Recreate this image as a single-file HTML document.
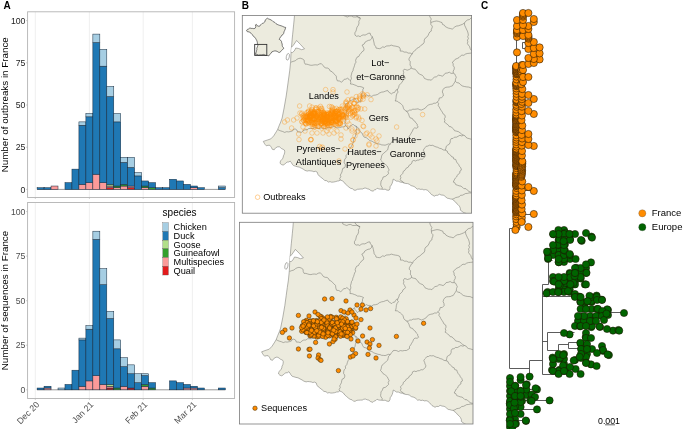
<!DOCTYPE html>
<html><head><meta charset="utf-8"><title>Figure</title>
<style>html,body{margin:0;padding:0;background:#fff}svg{display:block}</style></head>
<body>
<svg width="685" height="429" viewBox="0 0 685 429" font-family="Liberation Sans, Arial, sans-serif">
<rect width="685" height="429" fill="#fff"/>
<rect x="27.6" y="11.8" width="207.0" height="185.7" fill="#fff" stroke="none"/>
<line x1="35.3" x2="35.3" y1="11.8" y2="197.4" stroke="#e4e4e4" stroke-width="0.6"/>
<line x1="35.3" x2="35.3" y1="197.4" y2="199.0" stroke="#b3b3b3" stroke-width="0.6"/>
<line x1="89.4" x2="89.4" y1="11.8" y2="197.4" stroke="#e4e4e4" stroke-width="0.6"/>
<line x1="89.4" x2="89.4" y1="197.4" y2="199.0" stroke="#b3b3b3" stroke-width="0.6"/>
<line x1="143.2" x2="143.2" y1="11.8" y2="197.4" stroke="#e4e4e4" stroke-width="0.6"/>
<line x1="143.2" x2="143.2" y1="197.4" y2="199.0" stroke="#b3b3b3" stroke-width="0.6"/>
<line x1="192.4" x2="192.4" y1="11.8" y2="197.4" stroke="#e4e4e4" stroke-width="0.6"/>
<line x1="192.4" x2="192.4" y1="197.4" y2="199.0" stroke="#b3b3b3" stroke-width="0.6"/>
<line x1="37.1" x2="225.3" y1="189.40" y2="189.40" stroke="#333" stroke-width="0.5"/>
<rect x="37.10" y="187.71" width="6.97" height="1.69" fill="#1f78b4" stroke="#14283c" stroke-width="0.5"/>
<rect x="44.07" y="187.71" width="6.97" height="1.69" fill="#1f78b4" stroke="#14283c" stroke-width="0.5"/>
<rect x="51.04" y="186.02" width="6.97" height="3.38" fill="#fb9a99" stroke="#14283c" stroke-width="0.5"/>
<rect x="64.98" y="182.65" width="6.97" height="6.75" fill="#1f78b4" stroke="#14283c" stroke-width="0.5"/>
<rect x="71.95" y="169.14" width="6.97" height="20.26" fill="#1f78b4" stroke="#14283c" stroke-width="0.5"/>
<rect x="78.92" y="184.34" width="6.97" height="5.06" fill="#fb9a99" stroke="#14283c" stroke-width="0.5"/>
<rect x="78.92" y="125.26" width="6.97" height="59.08" fill="#1f78b4" stroke="#14283c" stroke-width="0.5"/>
<rect x="78.92" y="121.88" width="6.97" height="3.38" fill="#a6cee3" stroke="#14283c" stroke-width="0.5"/>
<rect x="85.89" y="182.65" width="6.97" height="6.75" fill="#fb9a99" stroke="#14283c" stroke-width="0.5"/>
<rect x="85.89" y="116.82" width="6.97" height="65.83" fill="#1f78b4" stroke="#14283c" stroke-width="0.5"/>
<rect x="85.89" y="113.44" width="6.97" height="3.38" fill="#a6cee3" stroke="#14283c" stroke-width="0.5"/>
<rect x="92.86" y="174.21" width="6.97" height="15.19" fill="#fb9a99" stroke="#14283c" stroke-width="0.5"/>
<rect x="92.86" y="42.54" width="6.97" height="131.66" fill="#1f78b4" stroke="#14283c" stroke-width="0.5"/>
<rect x="92.86" y="34.10" width="6.97" height="8.44" fill="#a6cee3" stroke="#14283c" stroke-width="0.5"/>
<rect x="99.83" y="182.65" width="6.97" height="6.75" fill="#fb9a99" stroke="#14283c" stroke-width="0.5"/>
<rect x="99.83" y="66.18" width="6.97" height="116.47" fill="#1f78b4" stroke="#14283c" stroke-width="0.5"/>
<rect x="99.83" y="49.30" width="6.97" height="16.88" fill="#a6cee3" stroke="#14283c" stroke-width="0.5"/>
<rect x="106.80" y="187.71" width="6.97" height="1.69" fill="#e31a1c" stroke="#14283c" stroke-width="0.5"/>
<rect x="106.80" y="186.02" width="6.97" height="1.69" fill="#fb9a99" stroke="#14283c" stroke-width="0.5"/>
<rect x="106.80" y="184.34" width="6.97" height="1.69" fill="#b2df8a" stroke="#14283c" stroke-width="0.5"/>
<rect x="106.80" y="96.56" width="6.97" height="87.78" fill="#1f78b4" stroke="#14283c" stroke-width="0.5"/>
<rect x="106.80" y="86.43" width="6.97" height="10.13" fill="#a6cee3" stroke="#14283c" stroke-width="0.5"/>
<rect x="113.77" y="187.71" width="6.97" height="1.69" fill="#fb9a99" stroke="#14283c" stroke-width="0.5"/>
<rect x="113.77" y="186.02" width="6.97" height="1.69" fill="#33a02c" stroke="#14283c" stroke-width="0.5"/>
<rect x="113.77" y="121.88" width="6.97" height="64.14" fill="#1f78b4" stroke="#14283c" stroke-width="0.5"/>
<rect x="113.77" y="113.44" width="6.97" height="8.44" fill="#a6cee3" stroke="#14283c" stroke-width="0.5"/>
<rect x="120.74" y="186.02" width="6.97" height="3.38" fill="#fb9a99" stroke="#14283c" stroke-width="0.5"/>
<rect x="120.74" y="184.34" width="6.97" height="1.69" fill="#33a02c" stroke="#14283c" stroke-width="0.5"/>
<rect x="120.74" y="162.39" width="6.97" height="21.94" fill="#1f78b4" stroke="#14283c" stroke-width="0.5"/>
<rect x="120.74" y="157.33" width="6.97" height="5.06" fill="#a6cee3" stroke="#14283c" stroke-width="0.5"/>
<rect x="127.71" y="187.71" width="6.97" height="1.69" fill="#e31a1c" stroke="#14283c" stroke-width="0.5"/>
<rect x="127.71" y="186.02" width="6.97" height="1.69" fill="#fb9a99" stroke="#14283c" stroke-width="0.5"/>
<rect x="127.71" y="167.46" width="6.97" height="18.57" fill="#1f78b4" stroke="#14283c" stroke-width="0.5"/>
<rect x="127.71" y="157.33" width="6.97" height="10.13" fill="#a6cee3" stroke="#14283c" stroke-width="0.5"/>
<rect x="134.68" y="175.90" width="6.97" height="13.50" fill="#1f78b4" stroke="#14283c" stroke-width="0.5"/>
<rect x="134.68" y="172.52" width="6.97" height="3.38" fill="#a6cee3" stroke="#14283c" stroke-width="0.5"/>
<rect x="141.65" y="187.71" width="6.97" height="1.69" fill="#fb9a99" stroke="#14283c" stroke-width="0.5"/>
<rect x="141.65" y="186.02" width="6.97" height="1.69" fill="#33a02c" stroke="#14283c" stroke-width="0.5"/>
<rect x="141.65" y="180.96" width="6.97" height="5.06" fill="#1f78b4" stroke="#14283c" stroke-width="0.5"/>
<rect x="148.62" y="187.71" width="6.97" height="1.69" fill="#33a02c" stroke="#14283c" stroke-width="0.5"/>
<rect x="148.62" y="182.65" width="6.97" height="5.06" fill="#1f78b4" stroke="#14283c" stroke-width="0.5"/>
<rect x="155.59" y="187.71" width="6.97" height="1.69" fill="#1f78b4" stroke="#14283c" stroke-width="0.5"/>
<rect x="162.56" y="187.71" width="6.97" height="1.69" fill="#1f78b4" stroke="#14283c" stroke-width="0.5"/>
<rect x="169.53" y="179.27" width="6.97" height="10.13" fill="#1f78b4" stroke="#14283c" stroke-width="0.5"/>
<rect x="176.50" y="180.96" width="6.97" height="8.44" fill="#1f78b4" stroke="#14283c" stroke-width="0.5"/>
<rect x="183.47" y="184.34" width="6.97" height="5.06" fill="#1f78b4" stroke="#14283c" stroke-width="0.5"/>
<rect x="190.44" y="187.71" width="6.97" height="1.69" fill="#fb9a99" stroke="#14283c" stroke-width="0.5"/>
<rect x="190.44" y="186.02" width="6.97" height="1.69" fill="#1f78b4" stroke="#14283c" stroke-width="0.5"/>
<rect x="197.41" y="187.71" width="6.97" height="1.69" fill="#1f78b4" stroke="#14283c" stroke-width="0.5"/>
<rect x="218.32" y="187.71" width="6.97" height="1.69" fill="#1f78b4" stroke="#14283c" stroke-width="0.5"/>
<rect x="218.32" y="186.02" width="6.97" height="1.69" fill="#a6cee3" stroke="#14283c" stroke-width="0.5"/>
<rect x="27.6" y="11.8" width="207.0" height="185.7" fill="none" stroke="#b3b3b3" stroke-width="0.9"/>
<line x1="26.0" x2="27.6" y1="189.4" y2="189.4" stroke="#b3b3b3" stroke-width="0.6"/>
<text x="25.4" y="192.5" font-size="8.7" text-anchor="end" fill="#222">0</text>
<line x1="26.0" x2="27.6" y1="147.2" y2="147.2" stroke="#b3b3b3" stroke-width="0.6"/>
<text x="25.4" y="150.3" font-size="8.7" text-anchor="end" fill="#222">25</text>
<line x1="26.0" x2="27.6" y1="105.0" y2="105.0" stroke="#b3b3b3" stroke-width="0.6"/>
<text x="25.4" y="108.1" font-size="8.7" text-anchor="end" fill="#222">50</text>
<line x1="26.0" x2="27.6" y1="62.8" y2="62.8" stroke="#b3b3b3" stroke-width="0.6"/>
<text x="25.4" y="65.9" font-size="8.7" text-anchor="end" fill="#222">75</text>
<line x1="26.0" x2="27.6" y1="20.6" y2="20.6" stroke="#b3b3b3" stroke-width="0.6"/>
<text x="25.4" y="23.7" font-size="8.7" text-anchor="end" fill="#222">100</text>
<text transform="translate(7.6 104.8) rotate(-90)" font-size="9.8" text-anchor="middle" fill="#000">Number of outbreaks in France</text>
<rect x="27.6" y="202.5" width="207.0" height="196.0" fill="#fff" stroke="none"/>
<line x1="35.3" x2="35.3" y1="202.5" y2="398.5" stroke="#e4e4e4" stroke-width="0.6"/>
<line x1="35.3" x2="35.3" y1="398.5" y2="400.1" stroke="#b3b3b3" stroke-width="0.6"/>
<line x1="89.4" x2="89.4" y1="202.5" y2="398.5" stroke="#e4e4e4" stroke-width="0.6"/>
<line x1="89.4" x2="89.4" y1="398.5" y2="400.1" stroke="#b3b3b3" stroke-width="0.6"/>
<line x1="143.2" x2="143.2" y1="202.5" y2="398.5" stroke="#e4e4e4" stroke-width="0.6"/>
<line x1="143.2" x2="143.2" y1="398.5" y2="400.1" stroke="#b3b3b3" stroke-width="0.6"/>
<line x1="192.4" x2="192.4" y1="202.5" y2="398.5" stroke="#e4e4e4" stroke-width="0.6"/>
<line x1="192.4" x2="192.4" y1="398.5" y2="400.1" stroke="#b3b3b3" stroke-width="0.6"/>
<line x1="37.1" x2="225.3" y1="389.80" y2="389.80" stroke="#333" stroke-width="0.5"/>
<rect x="37.10" y="388.02" width="6.97" height="1.78" fill="#1f78b4" stroke="#14283c" stroke-width="0.5"/>
<rect x="44.07" y="388.02" width="6.97" height="1.78" fill="#fb9a99" stroke="#14283c" stroke-width="0.5"/>
<rect x="44.07" y="386.24" width="6.97" height="1.78" fill="#1f78b4" stroke="#14283c" stroke-width="0.5"/>
<rect x="58.01" y="388.02" width="6.97" height="1.78" fill="#a6cee3" stroke="#14283c" stroke-width="0.5"/>
<rect x="64.98" y="384.45" width="6.97" height="5.35" fill="#1f78b4" stroke="#14283c" stroke-width="0.5"/>
<rect x="71.95" y="370.20" width="6.97" height="19.60" fill="#1f78b4" stroke="#14283c" stroke-width="0.5"/>
<rect x="78.92" y="386.24" width="6.97" height="3.56" fill="#fb9a99" stroke="#14283c" stroke-width="0.5"/>
<rect x="78.92" y="339.90" width="6.97" height="46.33" fill="#1f78b4" stroke="#14283c" stroke-width="0.5"/>
<rect x="78.92" y="338.12" width="6.97" height="1.78" fill="#a6cee3" stroke="#14283c" stroke-width="0.5"/>
<rect x="85.89" y="380.89" width="6.97" height="8.91" fill="#fb9a99" stroke="#14283c" stroke-width="0.5"/>
<rect x="85.89" y="329.21" width="6.97" height="51.68" fill="#1f78b4" stroke="#14283c" stroke-width="0.5"/>
<rect x="85.89" y="325.65" width="6.97" height="3.56" fill="#a6cee3" stroke="#14283c" stroke-width="0.5"/>
<rect x="92.86" y="375.54" width="6.97" height="14.26" fill="#fb9a99" stroke="#14283c" stroke-width="0.5"/>
<rect x="92.86" y="239.40" width="6.97" height="136.14" fill="#1f78b4" stroke="#14283c" stroke-width="0.5"/>
<rect x="92.86" y="231.20" width="6.97" height="8.20" fill="#a6cee3" stroke="#14283c" stroke-width="0.5"/>
<rect x="99.83" y="384.45" width="6.97" height="5.35" fill="#fb9a99" stroke="#14283c" stroke-width="0.5"/>
<rect x="99.83" y="284.66" width="6.97" height="99.79" fill="#1f78b4" stroke="#14283c" stroke-width="0.5"/>
<rect x="99.83" y="268.62" width="6.97" height="16.04" fill="#a6cee3" stroke="#14283c" stroke-width="0.5"/>
<rect x="106.80" y="388.02" width="6.97" height="1.78" fill="#e31a1c" stroke="#14283c" stroke-width="0.5"/>
<rect x="106.80" y="386.24" width="6.97" height="1.78" fill="#fb9a99" stroke="#14283c" stroke-width="0.5"/>
<rect x="106.80" y="384.45" width="6.97" height="1.78" fill="#b2df8a" stroke="#14283c" stroke-width="0.5"/>
<rect x="106.80" y="318.52" width="6.97" height="65.93" fill="#1f78b4" stroke="#14283c" stroke-width="0.5"/>
<rect x="106.80" y="311.39" width="6.97" height="7.13" fill="#a6cee3" stroke="#14283c" stroke-width="0.5"/>
<rect x="113.77" y="388.02" width="6.97" height="1.78" fill="#33a02c" stroke="#14283c" stroke-width="0.5"/>
<rect x="113.77" y="348.81" width="6.97" height="39.20" fill="#1f78b4" stroke="#14283c" stroke-width="0.5"/>
<rect x="113.77" y="339.90" width="6.97" height="8.91" fill="#a6cee3" stroke="#14283c" stroke-width="0.5"/>
<rect x="120.74" y="386.24" width="6.97" height="3.56" fill="#fb9a99" stroke="#14283c" stroke-width="0.5"/>
<rect x="120.74" y="366.63" width="6.97" height="19.60" fill="#1f78b4" stroke="#14283c" stroke-width="0.5"/>
<rect x="120.74" y="357.72" width="6.97" height="8.91" fill="#a6cee3" stroke="#14283c" stroke-width="0.5"/>
<rect x="127.71" y="388.02" width="6.97" height="1.78" fill="#e31a1c" stroke="#14283c" stroke-width="0.5"/>
<rect x="127.71" y="373.76" width="6.97" height="14.26" fill="#1f78b4" stroke="#14283c" stroke-width="0.5"/>
<rect x="127.71" y="364.85" width="6.97" height="8.91" fill="#a6cee3" stroke="#14283c" stroke-width="0.5"/>
<rect x="134.68" y="382.67" width="6.97" height="7.13" fill="#1f78b4" stroke="#14283c" stroke-width="0.5"/>
<rect x="134.68" y="373.76" width="6.97" height="8.91" fill="#a6cee3" stroke="#14283c" stroke-width="0.5"/>
<rect x="141.65" y="386.24" width="6.97" height="3.56" fill="#fb9a99" stroke="#14283c" stroke-width="0.5"/>
<rect x="141.65" y="384.45" width="6.97" height="1.78" fill="#33a02c" stroke="#14283c" stroke-width="0.5"/>
<rect x="141.65" y="375.54" width="6.97" height="8.91" fill="#1f78b4" stroke="#14283c" stroke-width="0.5"/>
<rect x="141.65" y="373.76" width="6.97" height="1.78" fill="#a6cee3" stroke="#14283c" stroke-width="0.5"/>
<rect x="148.62" y="388.02" width="6.97" height="1.78" fill="#33a02c" stroke="#14283c" stroke-width="0.5"/>
<rect x="148.62" y="382.67" width="6.97" height="5.35" fill="#1f78b4" stroke="#14283c" stroke-width="0.5"/>
<rect x="169.53" y="380.89" width="6.97" height="8.91" fill="#1f78b4" stroke="#14283c" stroke-width="0.5"/>
<rect x="176.50" y="382.67" width="6.97" height="7.13" fill="#1f78b4" stroke="#14283c" stroke-width="0.5"/>
<rect x="183.47" y="388.02" width="6.97" height="1.78" fill="#fb9a99" stroke="#14283c" stroke-width="0.5"/>
<rect x="183.47" y="384.45" width="6.97" height="3.56" fill="#1f78b4" stroke="#14283c" stroke-width="0.5"/>
<rect x="190.44" y="388.02" width="6.97" height="1.78" fill="#fb9a99" stroke="#14283c" stroke-width="0.5"/>
<rect x="190.44" y="386.24" width="6.97" height="1.78" fill="#1f78b4" stroke="#14283c" stroke-width="0.5"/>
<rect x="197.41" y="388.02" width="6.97" height="1.78" fill="#1f78b4" stroke="#14283c" stroke-width="0.5"/>
<rect x="218.32" y="388.02" width="6.97" height="1.78" fill="#1f78b4" stroke="#14283c" stroke-width="0.5"/>
<rect x="27.6" y="202.5" width="207.0" height="196.0" fill="none" stroke="#b3b3b3" stroke-width="0.9"/>
<line x1="26.0" x2="27.6" y1="389.8" y2="389.8" stroke="#b3b3b3" stroke-width="0.6"/>
<text x="25.4" y="392.9" font-size="8.7" text-anchor="end" fill="#4d4d4d">0</text>
<line x1="26.0" x2="27.6" y1="345.2" y2="345.2" stroke="#b3b3b3" stroke-width="0.6"/>
<text x="25.4" y="348.4" font-size="8.7" text-anchor="end" fill="#4d4d4d">25</text>
<line x1="26.0" x2="27.6" y1="300.7" y2="300.7" stroke="#b3b3b3" stroke-width="0.6"/>
<text x="25.4" y="303.8" font-size="8.7" text-anchor="end" fill="#4d4d4d">50</text>
<line x1="26.0" x2="27.6" y1="256.1" y2="256.1" stroke="#b3b3b3" stroke-width="0.6"/>
<text x="25.4" y="259.2" font-size="8.7" text-anchor="end" fill="#4d4d4d">75</text>
<line x1="26.0" x2="27.6" y1="211.6" y2="211.6" stroke="#b3b3b3" stroke-width="0.6"/>
<text x="25.4" y="214.7" font-size="8.7" text-anchor="end" fill="#4d4d4d">100</text>
<text transform="translate(7.6 300.5) rotate(-90)" font-size="9.8" text-anchor="middle" fill="#000">Number of sequences in France</text>
<text x="3.4" y="8.5" font-size="10" font-weight="bold" fill="#000">A</text>
<text transform="translate(39.9 405.2) rotate(-45)" font-size="8.7" text-anchor="end" fill="#4d4d4d">Dec 20</text>
<text transform="translate(94.0 405.2) rotate(-45)" font-size="8.7" text-anchor="end" fill="#4d4d4d">Jan 21</text>
<text transform="translate(147.8 405.2) rotate(-45)" font-size="8.7" text-anchor="end" fill="#4d4d4d">Feb 21</text>
<text transform="translate(197.0 405.2) rotate(-45)" font-size="8.7" text-anchor="end" fill="#4d4d4d">Mar 21</text>
<text x="162.6" y="216.4" font-size="10" fill="#000">species</text>
<rect x="162.8" y="222.70" width="5.6" height="8.72" fill="#a6cee3" stroke="#555" stroke-width="0.3"/>
<text x="173.6" y="230.2" font-size="9.2" fill="#000">Chicken</text>
<rect x="162.8" y="231.42" width="5.6" height="8.72" fill="#1f78b4" stroke="#555" stroke-width="0.3"/>
<text x="173.6" y="238.9" font-size="9.2" fill="#000">Duck</text>
<rect x="162.8" y="240.14" width="5.6" height="8.72" fill="#b2df8a" stroke="#555" stroke-width="0.3"/>
<text x="173.6" y="247.6" font-size="9.2" fill="#000">Goose</text>
<rect x="162.8" y="248.86" width="5.6" height="8.72" fill="#33a02c" stroke="#555" stroke-width="0.3"/>
<text x="173.6" y="256.4" font-size="9.2" fill="#000">Guineafowl</text>
<rect x="162.8" y="257.58" width="5.6" height="8.72" fill="#fb9a99" stroke="#555" stroke-width="0.3"/>
<text x="173.6" y="265.1" font-size="9.2" fill="#000">Multispecies</text>
<rect x="162.8" y="266.30" width="5.6" height="8.72" fill="#e31a1c" stroke="#555" stroke-width="0.3"/>
<text x="173.6" y="273.8" font-size="9.2" fill="#000">Quail</text>
<clipPath id="clip15"><rect x="242.3" y="15.4" width="229.3" height="197.8"/></clipPath>
<g clip-path="url(#clip15)">
<rect x="242.3" y="15.4" width="229.3" height="197.8" fill="#fff"/>
<path d="M478.0 11.0L478.0 218.0L466.0 218.0L466.0 213.4L466.0 213.4L464.7 213.0L463.4 212.4L461.9 211.3L460.4 210.2L460.3 208.1L459.4 206.2L458.0 204.6L456.3 203.2L455.2 201.6L453.7 200.5L452.3 199.2L450.6 199.0L449.0 198.5L447.3 198.2L446.0 197.2L444.7 196.0L443.3 195.2L441.2 195.0L439.3 194.2L437.8 195.3L435.9 195.3L434.3 196.2L432.9 195.3L431.4 194.5L430.3 193.2L428.9 191.6L427.3 190.2L425.6 189.6L423.8 189.9L422.2 189.2L420.5 189.4L418.9 188.8L417.2 189.2L416.0 188.0L414.7 186.9L413.2 186.2L411.0 185.6L409.2 184.2L407.6 183.6L405.9 183.5L404.2 183.1L402.3 182.4L400.2 182.1L398.3 181.2L396.2 181.1L394.8 180.0L393.2 179.1L392.8 181.2L392.2 183.3L391.2 185.2L390.1 186.7L390.0 188.6L389.1 190.2L387.0 190.2L385.1 189.2L383.1 189.4L381.1 189.2L379.0 189.0L377.1 188.2L376.0 189.5L374.3 190.0L373.1 191.2L370.9 190.6L369.1 189.2L367.4 188.8L365.9 188.1L364.1 188.2L362.5 189.0L360.8 189.0L359.1 189.2L357.3 189.3L355.8 190.2L354.0 190.2L352.6 188.8L350.6 188.3L349.0 187.2L347.2 185.6L345.4 184.1L344.0 182.1L342.3 180.8L340.3 180.1L338.9 180.9L337.3 181.1L335.3 181.7L333.3 182.1L331.6 182.2L330.0 181.6L328.3 182.1L326.8 180.7L324.7 180.5L323.3 179.1L322.0 178.1L320.7 177.1L319.3 176.1L317.9 174.3L317.2 172.1L315.6 171.3L313.8 171.7L312.2 171.1L310.5 170.9L308.9 170.7L307.2 171.1L305.0 170.4L303.2 169.1L301.2 168.1L299.2 167.1L297.2 166.7L295.2 166.1L293.4 165.5L292.2 164.1L291.3 162.5L290.2 161.1L288.8 162.0L287.2 162.1L285.8 163.0L284.6 164.3L283.1 165.1L281.4 164.5L280.1 163.3L280.2 162.0L280.7 160.7L281.7 159.7L282.6 158.6L283.2 157.2L283.5 155.7L284.2 154.3L284.6 152.8L284.7 151.3L284.3 150.0L283.2 149.3L281.8 148.8L280.7 147.8L279.4 146.8L277.7 146.8L275.7 147.8L274.9 148.8L274.2 149.8L272.3 149.3L271.3 147.3L270.6 146.3L269.8 145.3L268.0 145.3L266.3 145.8L265.2 144.6L264.3 143.3L263.3 141.4L267.8 139.9L270.8 138.9L273.7 135.9L276.2 131.9L277.7 129.4L279.2 125.5L280.7 122.0L282.1 118.1L284.1 108.0L286.2 96.0L287.6 86.0L288.7 78.0L289.7 70.8L290.6 61.8L291.1 50.9L291.6 45.9L292.1 39.8L292.6 34.8L293.1 29.9L293.6 24.9L294.1 19.9L294.5 15.4L294.8 11.0Z" fill="#ecebde" stroke="#6c6c66" stroke-width="0.5"/>
<path d="M291.5 47.3L293.5 45.0L296.6 40.5L300.5 44.5L304.5 48.9L301.6 49.7L298.6 48.5L295.8 48.0L294.3 50.9L292.3 52.6L291.0 52.2Z" fill="#fff" stroke="none"/>
<path d="M291.5 47.3L293.5 45.0L296.6 40.5L300.5 44.5L304.5 48.9L301.6 49.7L298.6 48.5L295.8 48.0L294.3 50.9L292.3 52.6L291.0 52.2" fill="none" stroke="#6c6c66" stroke-width="0.5"/>
<ellipse cx="287.8" cy="56.8" rx="1.5" ry="3.4" transform="rotate(12 287.8 56.8)" fill="#fff" stroke="#6c6c66" stroke-width="0.5"/>
<path d="M291.0 62.2L293.1 61.4L295.2 60.8L296.7 59.5L298.3 58.6L300.2 58.2L302.4 58.9L304.2 60.2L304.3 62.3L305.2 64.2L306.9 64.2L308.6 64.7L310.2 65.2L311.9 65.3L313.5 65.0L315.2 64.8L317.4 65.0L319.3 64.0L321.3 63.6L322.9 65.3L324.3 67.2L325.9 68.0L327.8 68.1L329.3 69.2L330.2 71.0L332.1 71.7L333.3 73.2L334.9 74.6L336.3 76.2L336.5 78.6L337.3 80.8L339.5 81.0L341.3 82.2L343.0 80.9L344.3 79.2L346.0 79.2L347.3 78.2L349.0 79.3L350.4 80.8 M350.4 80.8L351.4 78.6L351.0 76.2L351.5 74.2L352.0 72.2L353.0 70.7L353.3 68.8L354.0 67.2L354.5 65.5L355.0 63.7L356.0 62.2L355.6 60.4L356.2 58.8L357.0 57.2L358.9 56.4L359.8 54.5L361.1 53.1L362.1 51.7L363.6 50.8L364.1 49.1L363.2 47.0L362.1 45.1L364.1 44.1L365.1 42.1L366.7 41.2L368.3 40.4L370.1 40.1L371.7 38.6L372.1 36.5 M372.1 36.5L370.7 35.1L370.1 33.1L368.3 33.4L366.7 34.3L365.1 35.1L363.2 34.9L361.6 35.5L360.1 36.7L358.5 35.9L356.5 36.3L355.0 35.1L354.8 32.9L356.0 31.1L356.5 29.1L357.0 27.1L358.4 25.3L359.0 23.1L358.8 21.2L359.8 19.7L360.3 18.0L358.5 17.7L357.3 16.5L356.0 15.4L355.0 13.3L355.5 11.0 M342.8 11.0L343.3 13.2L343.3 15.4L345.3 16.2L347.3 17.0L349.2 16.1L351.3 16.0L353.2 16.9L355.3 17.0L357.1 16.7L358.7 17.2L360.3 18.0 M372.1 36.5L373.1 38.6L373.6 40.9L374.1 43.1L374.4 44.9L375.6 46.4L376.1 48.1L377.8 48.4L379.4 48.7L381.1 48.1L382.6 46.9L384.6 47.3L386.1 46.1L387.8 45.9L389.6 45.8L391.2 45.1L393.2 45.8L395.2 46.1L397.2 46.5L399.2 47.1L400.3 49.0L400.2 51.1L402.3 51.1L404.2 52.1L406.3 52.1L408.2 53.1L410.3 53.1L412.2 54.1 M412.2 54.1L413.0 52.3L414.4 50.8L416.0 49.7L417.2 48.1L418.8 47.4L420.1 46.5L421.2 45.1L423.1 44.0L424.3 42.1L424.2 40.0L425.3 38.1L427.1 36.9L428.3 35.1L428.9 33.5L429.8 32.0L431.3 31.1L431.3 29.4L432.1 27.8L432.3 26.1L430.9 24.6L430.8 22.5L430.6 20.7L431.3 19.0L430.2 17.3L429.3 15.4L429.6 13.2L429.0 11.0 M430.8 22.5L432.6 21.9L434.4 21.4L436.3 21.0L438.3 21.3L440.3 22.0L442.0 22.6L442.6 24.5L444.3 25.1L445.3 26.6L446.8 27.4L448.3 28.1L450.3 28.5L452.3 29.1L453.6 28.0L454.8 26.9L456.3 26.1L458.4 25.8L460.4 25.1L462.5 24.3L464.4 23.0L465.7 21.3L467.4 20.0L469.5 19.5L471.0 18.0L472.8 17.6L474.2 16.3L476.0 16.0 M464.4 23.0L464.6 25.2L465.5 27.1L466.4 29.1L467.4 31.0L468.0 33.0L468.4 35.1L467.7 36.7L468.4 38.6L467.4 40.1L467.8 41.7L467.4 43.6L468.4 45.1L469.6 46.6L470.1 48.4L471.0 50.1L472.7 50.7L474.3 50.7L476.0 50.1 M412.2 54.1L410.9 55.2L410.2 56.8L409.2 58.2L408.9 60.0L410.2 61.5L410.2 63.2L410.0 65.0L411.0 66.5L411.2 68.2 M411.2 68.2L413.1 68.9L415.2 69.2L416.1 70.6L417.5 71.7L418.2 73.2L420.1 74.4L422.2 75.2L423.5 76.6L424.4 78.4L426.3 79.2L427.9 79.8L429.7 79.8L431.3 80.2L432.7 78.6L434.3 77.2L436.6 76.7L438.3 75.2L440.4 75.5L442.3 76.2L444.0 74.9L445.3 73.2L447.4 73.0L449.3 72.2L451.1 73.4L453.3 73.2 M453.3 73.2L453.2 71.1L454.2 69.2L454.3 67.2L453.2 65.7L453.2 63.8L452.3 62.2L454.0 60.9L455.3 59.2L457.2 58.5L459.0 57.6L460.4 56.1L461.9 55.1L463.9 55.3L465.4 54.1L467.2 53.5L469.1 53.3L471.0 53.1L472.7 52.5L474.3 53.1L476.0 53.1 M453.3 73.2L454.9 74.1L455.5 75.7L456.3 77.2L455.5 79.1L455.3 81.2L456.8 82.6L459.0 83.0L460.4 84.5L462.2 85.9L464.4 86.5L466.6 86.9L468.9 87.1L471.0 88.0L472.7 88.4L474.3 88.4L476.0 88.0 M455.3 81.2L454.3 82.8L453.3 84.4L452.3 86.0L450.7 86.3L449.3 87.0L447.6 87.1L445.9 87.3L444.3 88.0L442.9 89.8L442.3 92.0L443.2 93.9L443.3 96.0L441.6 97.6L439.3 98.0L438.8 100.3L437.3 102.0 M411.2 68.2L409.3 69.5L407.2 70.2L405.7 69.6L404.2 69.2L403.2 70.7L403.7 72.6L403.2 74.2L404.4 76.1L405.2 78.2L404.1 79.5L402.7 80.5L402.2 82.2L400.6 83.6L399.2 85.2L398.6 87.5L397.5 89.5 M361.8 95.9L363.5 95.9L365.2 96.0L366.7 94.9L368.2 95.8L370.1 95.8L371.7 96.4L373.5 95.3L375.7 95.0L377.7 94.4L379.4 93.1L381.4 92.2L383.6 91.9L385.6 91.1L387.6 90.4L388.6 92.0L390.1 93.0L391.6 93.9L392.8 92.8L394.6 92.4L395.5 90.9L396.2 89.8L397.5 89.5 M350.4 80.8L350.8 82.4L350.4 84.0L352.7 84.2L354.8 85.0L356.4 85.6L358.0 86.6L359.8 86.5L361.9 87.0L363.8 87.9L362.8 89.6L362.8 91.5L361.7 93.6L361.8 95.9 M361.8 95.9L361.5 97.9L360.6 99.7L360.8 101.8L359.1 101.7L357.8 102.8L356.8 101.2L355.4 99.8L354.8 97.9L353.5 99.4L351.7 100.2L349.9 100.9L348.4 101.9L347.3 103.4L345.4 103.8L345.9 106.0L345.9 108.3L346.4 110.5L346.4 112.8L345.7 115.0L345.5 117.4L345.2 119.7L344.9 122.0L345.1 123.9L345.6 125.8 M277.7 129.4L279.1 130.3L280.7 130.9L282.7 131.5L284.7 132.4L286.6 131.7L288.6 131.9L290.6 131.5L292.6 130.9L293.4 129.4L295.1 128.9L296.9 130.0L297.6 131.9L299.6 131.9L301.6 132.4L303.0 130.8L304.9 129.8L307.0 129.8L308.8 128.5L310.8 128.5L312.9 128.5L314.8 127.8L316.8 127.9L318.8 128.7L320.9 127.8L322.8 128.1L324.8 128.8L326.7 128.0L328.7 127.6L330.7 127.4L332.7 126.8L334.5 126.7L336.0 127.6L337.7 127.8L339.7 127.6L341.7 127.0L343.7 126.8L345.6 125.8 M345.6 125.8L347.3 127.1L348.0 129.1L349.2 127.7L350.0 126.1L351.7 125.4L353.0 124.1L354.2 125.5L356.0 126.1L357.4 127.1L358.6 128.4L359.1 130.1L360.3 131.9L362.1 133.1L362.9 135.2L364.1 137.1L366.3 137.7L368.1 139.1L369.8 140.6L372.1 141.2L374.0 142.5L376.1 143.2L378.1 143.9L380.1 144.2L381.7 144.9L383.4 145.0L385.1 145.2L386.8 144.6L388.4 143.9L390.2 144.2 M390.2 144.2L391.0 142.7L392.4 141.6L393.2 140.2L395.0 140.1L396.6 140.4L398.2 141.2L400.1 140.3L402.2 140.5L404.2 140.2L406.1 140.2L407.7 139.2L409.2 138.2L409.2 136.2L410.4 134.7L411.2 133.1L412.4 131.2L413.2 129.1L414.6 127.9L416.7 128.2L418.2 127.1L417.3 125.7L417.2 124.1L415.8 122.8L414.8 121.1L413.2 120.1L412.3 118.4L410.1 117.9L409.2 116.1L408.6 114.2L407.7 112.5L406.2 111.1 M397.5 89.5L397.4 90.9L398.2 92.0L396.8 93.8L396.2 96.0L396.1 97.7L395.8 99.4L395.2 101.0L397.1 101.1L398.6 102.3L400.2 103.1L401.4 104.3L402.6 105.5L403.2 107.1L403.7 108.8L404.7 110.1L406.2 111.1 M406.2 111.1L408.0 111.2L409.5 110.1L411.2 110.1L412.8 109.2L414.5 109.3L416.2 109.1L418.0 108.8L419.6 109.6L421.2 110.1L423.3 109.2L425.3 108.1L426.6 106.4L428.3 105.1L430.2 104.4L432.3 104.1L433.9 103.2L435.8 103.2L437.3 102.0 M437.3 102.0L438.6 103.4L438.2 105.6L439.3 107.1L440.2 108.9L441.2 110.5L442.3 112.1L443.1 113.9L444.9 115.1L445.3 117.1L444.4 118.7L444.9 120.5L444.3 122.1L445.7 123.0L447.0 124.1L448.3 125.1L449.3 126.6L451.2 126.8L452.3 128.1L453.6 129.1L454.5 130.7L456.3 131.1L458.5 131.7L460.4 133.1L461.8 134.3L463.4 135.2L465.0 135.8L466.0 137.3L467.4 138.2L469.2 138.6L471.0 139.2L472.7 139.3L474.3 138.5L476.0 139.2 M463.4 135.2L461.8 136.0L459.9 135.3L458.3 136.2L456.4 137.2L454.3 137.2L453.1 138.4L451.2 138.6L450.3 140.2L450.2 142.3L449.3 144.2L447.7 145.1L446.3 146.2L445.9 148.2L445.3 150.2L447.2 151.0L447.8 153.0L449.3 154.2L450.6 155.2L451.6 156.7L453.3 157.2L453.7 159.0L455.8 159.5L456.3 161.2L457.2 162.9L458.6 164.4L459.4 166.2L460.9 167.9L461.4 170.1L459.9 171.1L459.8 173.1L458.3 174.1L457.3 175.4L456.6 177.0L455.3 178.1L454.2 180.1L453.3 182.1L454.9 182.8L455.7 184.6L457.4 185.2L459.1 185.8L460.9 186.1L462.4 187.2L463.8 188.6L466.0 188.7L467.4 190.2L469.0 191.5L471.0 192.2L472.7 191.8L474.3 192.7L476.0 192.2 M445.3 150.2L443.2 149.9L441.4 148.7L439.3 148.2L437.7 147.3L436.0 146.9L434.3 146.2L432.7 145.3L431.0 145.5L429.3 145.2L427.9 146.1L426.3 146.2L425.3 147.5L424.1 148.7L423.3 150.2L424.1 151.8L424.6 153.5L425.3 155.2L424.8 156.9L423.6 158.1L422.3 159.2L420.5 159.1L418.9 160.1L417.2 160.2L415.6 161.0L413.8 160.4L412.2 161.2L411.8 163.0L410.8 164.3L409.2 165.2L408.2 167.2L406.2 168.2L405.0 170.2L403.2 171.5L402.8 173.4L401.5 174.7L400.2 176.0L400.9 177.6L400.2 179.5L401.2 181.0L402.9 181.7L404.2 183.1 M452.3 199.2L454.0 198.6L455.6 197.6L457.4 197.2L459.2 196.8L460.5 195.3L462.4 195.2L464.0 194.4L465.6 193.5L467.4 193.4L469.2 192.9L471.0 193.0L472.7 192.6L474.3 192.9L476.0 193.0 M390.2 144.2L388.6 145.8L388.1 148.0L387.7 149.8L386.4 150.9L385.1 152.0L383.8 153.2L382.4 154.3L381.6 156.0L381.3 158.0L380.6 160.0L382.0 161.4L383.1 163.0L384.6 163.8L385.9 164.8L387.2 166.0L388.1 168.0L389.2 170.0L388.1 171.5L388.5 173.6L387.2 175.0L385.4 176.4L383.1 177.0L382.5 179.2L381.1 181.0L380.9 182.7L380.7 184.3L381.1 186.0L382.2 187.3L382.1 189.0 M356.0 126.1L356.7 128.4L356.0 130.7L356.4 132.5L355.8 134.2L355.5 136.0L354.5 137.9L353.4 139.8L353.4 142.0L352.6 144.1L351.5 146.1L350.4 148.0L348.9 149.8L348.0 151.9L347.3 154.1L346.0 155.6L346.1 157.7L344.8 159.2L344.3 161.1L344.2 162.9L345.3 164.4L345.3 166.1L344.6 167.7L342.8 168.4L342.3 170.1L342.0 171.9L341.2 173.5L340.3 175.1L340.9 176.8L339.7 178.4L340.3 180.1" fill="none" stroke="#6c6c66" stroke-width="0.5" stroke-linejoin="round"/>
</g>
<path d="M267.3 18.2L268.5 18.9L269.8 19.4L271.5 20.1L272.8 21.4L273.8 21.9L274.8 22.4L275.9 23.6L277.2 24.4L278.4 24.9L279.7 25.4L281.2 25.8L282.7 26.4L284.1 27.1L285.7 27.4L285.3 28.9L284.7 30.4L284.0 31.8L283.7 33.4L282.9 34.6L281.7 35.3L281.2 36.5L280.2 37.3L279.7 38.3L279.2 39.3L280.7 40.3L281.5 41.4L281.7 42.8L282.2 44.0L282.2 45.3L282.4 46.4L283.2 47.2L283.7 48.6L282.6 49.4L281.7 50.4L280.8 51.5L279.7 52.4L278.3 52.2L277.2 51.4L276.0 51.0L274.8 50.9L273.3 51.3L271.8 51.9L271.2 53.0L270.3 53.9L269.5 54.9L268.8 55.9L267.8 55.6L266.8 55.4L265.2 55.2L263.8 54.4L261.9 54.9L259.9 54.9L258.4 55.1L256.9 54.3L255.4 54.4L255.8 53.0L256.4 51.7L256.5 50.7L256.9 49.7L256.8 48.2L257.4 46.8L257.8 45.8L257.9 44.8L257.5 43.8L257.4 42.8L257.2 41.8L256.9 40.8L256.3 39.8L255.9 38.8L255.1 37.9L254.4 36.8L253.4 36.3L252.9 35.3L252.1 34.6L251.4 33.8L250.8 32.9L249.9 32.4L249.0 31.8L247.9 31.9L246.5 30.9L247.4 29.4L248.8 28.9L249.9 27.9L251.1 28.4L252.4 28.4L253.7 28.6L254.9 28.4L255.9 26.9L255.7 25.9L255.4 24.9L256.4 24.4L257.4 25.9L258.4 26.2L259.4 26.4L260.4 24.9L261.4 24.3L262.3 23.4L263.7 22.9L264.8 21.9L265.1 20.9L265.3 19.9Z" fill="#ecebde" stroke="#262626" stroke-width="0.6"/>
<rect x="254.7" y="44.4" width="12.1" height="11" fill="none" stroke="#333" stroke-width="0.9"/>
<rect x="242.3" y="15.4" width="229.3" height="197.8" fill="none" stroke="#7a7a7a" stroke-width="0.8"/>
<g fill="none" stroke="#ff8c00" stroke-opacity="0.85" stroke-width="0.42">
<circle cx="308.4" cy="120.0" r="2.3"/>
<circle cx="333.9" cy="115.2" r="2.3"/>
<circle cx="307.2" cy="117.6" r="2.3"/>
<circle cx="328.0" cy="123.9" r="2.3"/>
<circle cx="308.5" cy="111.0" r="2.3"/>
<circle cx="330.6" cy="120.6" r="2.3"/>
<circle cx="340.1" cy="123.3" r="2.3"/>
<circle cx="321.3" cy="116.5" r="2.3"/>
<circle cx="313.5" cy="111.9" r="2.3"/>
<circle cx="323.6" cy="118.8" r="2.3"/>
<circle cx="318.5" cy="117.7" r="2.3"/>
<circle cx="325.6" cy="121.7" r="2.3"/>
<circle cx="335.1" cy="119.1" r="2.3"/>
<circle cx="301.9" cy="121.8" r="2.3"/>
<circle cx="306.2" cy="117.1" r="2.3"/>
<circle cx="305.6" cy="118.0" r="2.3"/>
<circle cx="313.5" cy="119.2" r="2.3"/>
<circle cx="332.2" cy="110.9" r="2.3"/>
<circle cx="319.2" cy="121.6" r="2.3"/>
<circle cx="321.4" cy="120.0" r="2.3"/>
<circle cx="323.7" cy="112.6" r="2.3"/>
<circle cx="329.0" cy="113.6" r="2.3"/>
<circle cx="344.0" cy="115.3" r="2.3"/>
<circle cx="330.4" cy="118.0" r="2.3"/>
<circle cx="333.5" cy="114.7" r="2.3"/>
<circle cx="334.0" cy="117.3" r="2.3"/>
<circle cx="337.0" cy="121.4" r="2.3"/>
<circle cx="324.1" cy="113.8" r="2.3"/>
<circle cx="331.3" cy="120.5" r="2.3"/>
<circle cx="341.4" cy="116.0" r="2.3"/>
<circle cx="328.9" cy="120.7" r="2.3"/>
<circle cx="325.8" cy="119.1" r="2.3"/>
<circle cx="324.6" cy="114.8" r="2.3"/>
<circle cx="310.8" cy="115.9" r="2.3"/>
<circle cx="329.3" cy="126.2" r="2.3"/>
<circle cx="333.7" cy="123.7" r="2.3"/>
<circle cx="331.4" cy="121.8" r="2.3"/>
<circle cx="324.6" cy="122.2" r="2.3"/>
<circle cx="342.9" cy="116.2" r="2.3"/>
<circle cx="325.3" cy="123.2" r="2.3"/>
<circle cx="332.5" cy="111.9" r="2.3"/>
<circle cx="324.5" cy="122.1" r="2.3"/>
<circle cx="324.0" cy="113.2" r="2.3"/>
<circle cx="321.2" cy="120.0" r="2.3"/>
<circle cx="335.3" cy="121.8" r="2.3"/>
<circle cx="323.2" cy="125.3" r="2.3"/>
<circle cx="313.8" cy="122.3" r="2.3"/>
<circle cx="335.3" cy="116.4" r="2.3"/>
<circle cx="301.9" cy="113.1" r="2.3"/>
<circle cx="325.2" cy="120.9" r="2.3"/>
<circle cx="340.3" cy="112.6" r="2.3"/>
<circle cx="322.5" cy="121.5" r="2.3"/>
<circle cx="334.0" cy="113.0" r="2.3"/>
<circle cx="317.8" cy="119.2" r="2.3"/>
<circle cx="323.8" cy="126.4" r="2.3"/>
<circle cx="321.6" cy="128.1" r="2.3"/>
<circle cx="314.6" cy="115.4" r="2.3"/>
<circle cx="330.8" cy="125.7" r="2.3"/>
<circle cx="330.0" cy="119.6" r="2.3"/>
<circle cx="301.6" cy="114.2" r="2.3"/>
<circle cx="315.5" cy="115.1" r="2.3"/>
<circle cx="329.2" cy="116.2" r="2.3"/>
<circle cx="331.6" cy="118.4" r="2.3"/>
<circle cx="318.7" cy="118.6" r="2.3"/>
<circle cx="327.4" cy="122.6" r="2.3"/>
<circle cx="317.0" cy="116.7" r="2.3"/>
<circle cx="339.2" cy="117.0" r="2.3"/>
<circle cx="317.0" cy="111.3" r="2.3"/>
<circle cx="324.5" cy="119.1" r="2.3"/>
<circle cx="338.7" cy="119.0" r="2.3"/>
<circle cx="304.0" cy="119.0" r="2.3"/>
<circle cx="335.4" cy="121.1" r="2.3"/>
<circle cx="320.5" cy="106.4" r="2.3"/>
<circle cx="321.0" cy="109.6" r="2.3"/>
<circle cx="329.4" cy="106.5" r="2.3"/>
<circle cx="312.1" cy="124.6" r="2.3"/>
<circle cx="341.4" cy="111.6" r="2.3"/>
<circle cx="304.9" cy="122.7" r="2.3"/>
<circle cx="332.3" cy="112.7" r="2.3"/>
<circle cx="314.5" cy="114.3" r="2.3"/>
<circle cx="308.8" cy="114.3" r="2.3"/>
<circle cx="336.9" cy="121.7" r="2.3"/>
<circle cx="346.2" cy="117.5" r="2.3"/>
<circle cx="320.9" cy="112.7" r="2.3"/>
<circle cx="321.1" cy="110.9" r="2.3"/>
<circle cx="302.1" cy="121.8" r="2.3"/>
<circle cx="339.1" cy="122.5" r="2.3"/>
<circle cx="337.8" cy="119.4" r="2.3"/>
<circle cx="314.2" cy="118.5" r="2.3"/>
<circle cx="318.2" cy="112.0" r="2.3"/>
<circle cx="322.4" cy="118.8" r="2.3"/>
<circle cx="317.0" cy="125.7" r="2.3"/>
<circle cx="324.6" cy="121.1" r="2.3"/>
<circle cx="336.5" cy="113.6" r="2.3"/>
<circle cx="314.6" cy="125.1" r="2.3"/>
<circle cx="326.4" cy="123.4" r="2.3"/>
<circle cx="331.3" cy="106.8" r="2.3"/>
<circle cx="330.8" cy="114.4" r="2.3"/>
<circle cx="313.8" cy="115.7" r="2.3"/>
<circle cx="331.3" cy="122.8" r="2.3"/>
<circle cx="334.1" cy="109.0" r="2.3"/>
<circle cx="321.3" cy="121.2" r="2.3"/>
<circle cx="313.7" cy="119.3" r="2.3"/>
<circle cx="325.2" cy="123.4" r="2.3"/>
<circle cx="313.1" cy="113.5" r="2.3"/>
<circle cx="313.7" cy="127.5" r="2.3"/>
<circle cx="335.0" cy="117.3" r="2.3"/>
<circle cx="325.1" cy="118.6" r="2.3"/>
<circle cx="324.8" cy="116.9" r="2.3"/>
<circle cx="318.7" cy="111.2" r="2.3"/>
<circle cx="315.1" cy="126.9" r="2.3"/>
<circle cx="328.7" cy="118.3" r="2.3"/>
<circle cx="320.0" cy="118.3" r="2.3"/>
<circle cx="326.6" cy="114.5" r="2.3"/>
<circle cx="324.8" cy="119.3" r="2.3"/>
<circle cx="313.9" cy="113.7" r="2.3"/>
<circle cx="311.0" cy="112.3" r="2.3"/>
<circle cx="319.4" cy="114.7" r="2.3"/>
<circle cx="315.4" cy="118.5" r="2.3"/>
<circle cx="335.5" cy="118.4" r="2.3"/>
<circle cx="320.9" cy="114.7" r="2.3"/>
<circle cx="321.0" cy="122.9" r="2.3"/>
<circle cx="318.0" cy="111.8" r="2.3"/>
<circle cx="308.0" cy="112.0" r="2.3"/>
<circle cx="306.5" cy="123.9" r="2.3"/>
<circle cx="326.6" cy="116.7" r="2.3"/>
<circle cx="339.3" cy="114.4" r="2.3"/>
<circle cx="331.2" cy="122.3" r="2.3"/>
<circle cx="311.8" cy="122.9" r="2.3"/>
<circle cx="337.4" cy="111.4" r="2.3"/>
<circle cx="334.6" cy="115.9" r="2.3"/>
<circle cx="318.0" cy="115.0" r="2.3"/>
<circle cx="318.8" cy="108.2" r="2.3"/>
<circle cx="311.0" cy="111.3" r="2.3"/>
<circle cx="302.7" cy="115.8" r="2.3"/>
<circle cx="329.1" cy="114.1" r="2.3"/>
<circle cx="333.3" cy="120.9" r="2.3"/>
<circle cx="303.8" cy="115.1" r="2.3"/>
<circle cx="319.7" cy="118.1" r="2.3"/>
<circle cx="324.0" cy="116.2" r="2.3"/>
<circle cx="324.7" cy="114.8" r="2.3"/>
<circle cx="312.2" cy="126.2" r="2.3"/>
<circle cx="326.6" cy="120.4" r="2.3"/>
<circle cx="304.2" cy="117.1" r="2.3"/>
<circle cx="331.9" cy="111.0" r="2.3"/>
<circle cx="335.1" cy="115.9" r="2.3"/>
<circle cx="327.1" cy="117.3" r="2.3"/>
<circle cx="325.0" cy="124.5" r="2.3"/>
<circle cx="317.9" cy="126.4" r="2.3"/>
<circle cx="313.5" cy="113.0" r="2.3"/>
<circle cx="330.7" cy="112.2" r="2.3"/>
<circle cx="318.2" cy="122.9" r="2.3"/>
<circle cx="336.4" cy="108.4" r="2.3"/>
<circle cx="328.3" cy="128.2" r="2.3"/>
<circle cx="336.2" cy="116.7" r="2.3"/>
<circle cx="315.6" cy="116.4" r="2.3"/>
<circle cx="309.2" cy="116.6" r="2.3"/>
<circle cx="320.3" cy="117.2" r="2.3"/>
<circle cx="336.1" cy="116.8" r="2.3"/>
<circle cx="305.7" cy="123.7" r="2.3"/>
<circle cx="310.2" cy="115.6" r="2.3"/>
<circle cx="321.0" cy="116.1" r="2.3"/>
<circle cx="311.0" cy="116.7" r="2.3"/>
<circle cx="320.9" cy="124.1" r="2.3"/>
<circle cx="331.1" cy="122.1" r="2.3"/>
<circle cx="332.4" cy="107.4" r="2.3"/>
<circle cx="312.6" cy="118.7" r="2.3"/>
<circle cx="328.2" cy="125.0" r="2.3"/>
<circle cx="327.9" cy="116.7" r="2.3"/>
<circle cx="323.0" cy="116.9" r="2.3"/>
<circle cx="325.3" cy="121.6" r="2.3"/>
<circle cx="318.6" cy="113.6" r="2.3"/>
<circle cx="312.7" cy="123.9" r="2.3"/>
<circle cx="337.2" cy="123.4" r="2.3"/>
<circle cx="332.4" cy="122.5" r="2.3"/>
<circle cx="322.5" cy="121.6" r="2.3"/>
<circle cx="310.4" cy="116.9" r="2.3"/>
<circle cx="314.1" cy="121.9" r="2.3"/>
<circle cx="315.8" cy="117.4" r="2.3"/>
<circle cx="327.1" cy="125.3" r="2.3"/>
<circle cx="313.4" cy="112.9" r="2.3"/>
<circle cx="331.9" cy="112.0" r="2.3"/>
<circle cx="327.7" cy="114.9" r="2.3"/>
<circle cx="321.3" cy="108.2" r="2.3"/>
<circle cx="330.7" cy="115.3" r="2.3"/>
<circle cx="327.2" cy="116.1" r="2.3"/>
<circle cx="323.7" cy="126.7" r="2.3"/>
<circle cx="322.2" cy="120.4" r="2.3"/>
<circle cx="328.4" cy="113.1" r="2.3"/>
<circle cx="324.0" cy="115.3" r="2.3"/>
<circle cx="308.2" cy="122.7" r="2.3"/>
<circle cx="330.2" cy="118.4" r="2.3"/>
<circle cx="312.1" cy="107.2" r="2.3"/>
<circle cx="328.1" cy="117.5" r="2.3"/>
<circle cx="303.1" cy="117.7" r="2.3"/>
<circle cx="305.0" cy="117.9" r="2.3"/>
<circle cx="324.1" cy="119.9" r="2.3"/>
<circle cx="325.0" cy="118.9" r="2.3"/>
<circle cx="309.4" cy="115.9" r="2.3"/>
<circle cx="316.6" cy="116.7" r="2.3"/>
<circle cx="325.6" cy="121.3" r="2.3"/>
<circle cx="327.1" cy="116.9" r="2.3"/>
<circle cx="303.5" cy="120.2" r="2.3"/>
<circle cx="316.5" cy="123.4" r="2.3"/>
<circle cx="310.4" cy="117.5" r="2.3"/>
<circle cx="321.0" cy="117.5" r="2.3"/>
<circle cx="315.8" cy="108.1" r="2.3"/>
<circle cx="327.8" cy="123.4" r="2.3"/>
<circle cx="321.7" cy="112.5" r="2.3"/>
<circle cx="324.8" cy="121.1" r="2.3"/>
<circle cx="320.5" cy="117.9" r="2.3"/>
<circle cx="338.7" cy="112.0" r="2.3"/>
<circle cx="316.1" cy="107.7" r="2.3"/>
<circle cx="314.5" cy="114.0" r="2.3"/>
<circle cx="311.5" cy="114.3" r="2.3"/>
<circle cx="343.2" cy="116.9" r="2.3"/>
<circle cx="321.8" cy="108.6" r="2.3"/>
<circle cx="327.1" cy="112.9" r="2.3"/>
<circle cx="341.3" cy="111.3" r="2.3"/>
<circle cx="315.8" cy="109.3" r="2.3"/>
<circle cx="323.6" cy="112.5" r="2.3"/>
<circle cx="321.7" cy="116.0" r="2.3"/>
<circle cx="315.5" cy="123.1" r="2.3"/>
<circle cx="333.3" cy="118.3" r="2.3"/>
<circle cx="312.1" cy="112.2" r="2.3"/>
<circle cx="317.2" cy="113.8" r="2.3"/>
<circle cx="314.5" cy="112.1" r="2.3"/>
<circle cx="311.3" cy="116.9" r="2.3"/>
<circle cx="339.0" cy="118.0" r="2.3"/>
<circle cx="316.6" cy="109.3" r="2.3"/>
<circle cx="325.0" cy="117.9" r="2.3"/>
<circle cx="308.4" cy="112.1" r="2.3"/>
<circle cx="322.0" cy="123.5" r="2.3"/>
<circle cx="329.7" cy="119.1" r="2.3"/>
<circle cx="318.8" cy="119.7" r="2.3"/>
<circle cx="309.5" cy="116.0" r="2.3"/>
<circle cx="337.1" cy="116.6" r="2.3"/>
<circle cx="338.9" cy="117.8" r="2.3"/>
<circle cx="324.2" cy="116.0" r="2.3"/>
<circle cx="306.6" cy="112.8" r="2.3"/>
<circle cx="329.5" cy="123.1" r="2.3"/>
<circle cx="329.0" cy="123.5" r="2.3"/>
<circle cx="319.4" cy="116.8" r="2.3"/>
<circle cx="333.8" cy="116.1" r="2.3"/>
<circle cx="307.2" cy="116.8" r="2.3"/>
<circle cx="316.2" cy="121.3" r="2.3"/>
<circle cx="314.2" cy="112.3" r="2.3"/>
<circle cx="318.7" cy="126.4" r="2.3"/>
<circle cx="321.9" cy="118.9" r="2.3"/>
<circle cx="322.6" cy="119.6" r="2.3"/>
<circle cx="317.6" cy="124.1" r="2.3"/>
<circle cx="312.0" cy="117.2" r="2.3"/>
<circle cx="326.4" cy="117.8" r="2.3"/>
<circle cx="323.7" cy="122.4" r="2.3"/>
<circle cx="305.8" cy="120.5" r="2.3"/>
<circle cx="316.4" cy="118.0" r="2.3"/>
<circle cx="310.9" cy="114.1" r="2.3"/>
<circle cx="323.0" cy="117.5" r="2.3"/>
<circle cx="309.6" cy="117.3" r="2.3"/>
<circle cx="307.3" cy="115.4" r="2.3"/>
<circle cx="312.6" cy="119.8" r="2.3"/>
<circle cx="309.0" cy="118.1" r="2.3"/>
<circle cx="303.7" cy="120.6" r="2.3"/>
<circle cx="307.5" cy="119.4" r="2.3"/>
<circle cx="306.6" cy="116.4" r="2.3"/>
<circle cx="313.3" cy="113.7" r="2.3"/>
<circle cx="326.8" cy="118.4" r="2.3"/>
<circle cx="311.6" cy="115.6" r="2.3"/>
<circle cx="321.6" cy="124.0" r="2.3"/>
<circle cx="313.8" cy="113.0" r="2.3"/>
<circle cx="309.0" cy="121.0" r="2.3"/>
<circle cx="308.9" cy="113.8" r="2.3"/>
<circle cx="304.9" cy="115.4" r="2.3"/>
<circle cx="312.1" cy="115.9" r="2.3"/>
<circle cx="322.6" cy="114.3" r="2.3"/>
<circle cx="314.1" cy="118.8" r="2.3"/>
<circle cx="311.2" cy="122.7" r="2.3"/>
<circle cx="310.0" cy="117.2" r="2.3"/>
<circle cx="309.8" cy="118.1" r="2.3"/>
<circle cx="319.7" cy="121.6" r="2.3"/>
<circle cx="304.0" cy="116.7" r="2.3"/>
<circle cx="307.2" cy="121.8" r="2.3"/>
<circle cx="313.3" cy="122.1" r="2.3"/>
<circle cx="311.6" cy="110.9" r="2.3"/>
<circle cx="314.7" cy="119.4" r="2.3"/>
<circle cx="315.0" cy="113.3" r="2.3"/>
<circle cx="312.5" cy="115.7" r="2.3"/>
<circle cx="307.9" cy="119.9" r="2.3"/>
<circle cx="314.1" cy="114.9" r="2.3"/>
<circle cx="308.5" cy="123.0" r="2.3"/>
<circle cx="311.7" cy="109.5" r="2.3"/>
<circle cx="306.8" cy="120.2" r="2.3"/>
<circle cx="322.0" cy="123.2" r="2.3"/>
<circle cx="314.2" cy="119.3" r="2.3"/>
<circle cx="305.6" cy="116.7" r="2.3"/>
<circle cx="310.0" cy="115.4" r="2.3"/>
<circle cx="312.4" cy="116.9" r="2.3"/>
<circle cx="314.0" cy="124.2" r="2.3"/>
<circle cx="316.4" cy="120.2" r="2.3"/>
<circle cx="310.6" cy="112.4" r="2.3"/>
<circle cx="311.3" cy="120.7" r="2.3"/>
<circle cx="305.9" cy="123.5" r="2.3"/>
<circle cx="310.0" cy="120.0" r="2.3"/>
<circle cx="310.0" cy="113.5" r="2.3"/>
<circle cx="324.4" cy="113.9" r="2.3"/>
<circle cx="317.5" cy="116.3" r="2.3"/>
<circle cx="313.7" cy="115.3" r="2.3"/>
<circle cx="309.5" cy="122.2" r="2.3"/>
<circle cx="323.7" cy="115.1" r="2.3"/>
<circle cx="312.1" cy="122.3" r="2.3"/>
<circle cx="308.2" cy="121.3" r="2.3"/>
<circle cx="307.3" cy="120.9" r="2.3"/>
<circle cx="314.6" cy="123.3" r="2.3"/>
<circle cx="314.2" cy="113.7" r="2.3"/>
<circle cx="316.0" cy="114.1" r="2.3"/>
<circle cx="338.5" cy="124.1" r="2.3"/>
<circle cx="337.6" cy="113.7" r="2.3"/>
<circle cx="341.2" cy="117.3" r="2.3"/>
<circle cx="326.5" cy="114.7" r="2.3"/>
<circle cx="342.5" cy="115.0" r="2.3"/>
<circle cx="334.7" cy="114.8" r="2.3"/>
<circle cx="323.9" cy="113.9" r="2.3"/>
<circle cx="336.1" cy="117.5" r="2.3"/>
<circle cx="341.3" cy="120.1" r="2.3"/>
<circle cx="340.1" cy="123.0" r="2.3"/>
<circle cx="331.3" cy="113.5" r="2.3"/>
<circle cx="335.9" cy="124.9" r="2.3"/>
<circle cx="323.9" cy="115.4" r="2.3"/>
<circle cx="329.7" cy="119.3" r="2.3"/>
<circle cx="342.8" cy="115.0" r="2.3"/>
<circle cx="326.6" cy="116.7" r="2.3"/>
<circle cx="332.3" cy="108.8" r="2.3"/>
<circle cx="339.3" cy="113.9" r="2.3"/>
<circle cx="338.1" cy="109.9" r="2.3"/>
<circle cx="340.6" cy="109.3" r="2.3"/>
<circle cx="342.3" cy="114.6" r="2.3"/>
<circle cx="324.7" cy="115.3" r="2.3"/>
<circle cx="336.0" cy="111.5" r="2.3"/>
<circle cx="331.0" cy="117.8" r="2.3"/>
<circle cx="331.4" cy="118.6" r="2.3"/>
<circle cx="335.8" cy="121.5" r="2.3"/>
<circle cx="338.8" cy="118.1" r="2.3"/>
<circle cx="340.5" cy="121.3" r="2.3"/>
<circle cx="334.6" cy="113.4" r="2.3"/>
<circle cx="340.1" cy="118.6" r="2.3"/>
<circle cx="322.6" cy="111.0" r="2.3"/>
<circle cx="336.8" cy="117.0" r="2.3"/>
<circle cx="335.7" cy="119.7" r="2.3"/>
<circle cx="334.9" cy="124.4" r="2.3"/>
<circle cx="330.5" cy="114.5" r="2.3"/>
<circle cx="335.9" cy="120.2" r="2.3"/>
<circle cx="338.7" cy="123.9" r="2.3"/>
<circle cx="331.1" cy="122.3" r="2.3"/>
<circle cx="336.8" cy="111.3" r="2.3"/>
<circle cx="333.2" cy="126.9" r="2.3"/>
<circle cx="338.7" cy="114.2" r="2.3"/>
<circle cx="319.6" cy="112.8" r="2.3"/>
<circle cx="329.8" cy="116.9" r="2.3"/>
<circle cx="335.9" cy="111.8" r="2.3"/>
<circle cx="326.9" cy="115.5" r="2.3"/>
<circle cx="331.6" cy="113.4" r="2.3"/>
<circle cx="340.8" cy="116.9" r="2.3"/>
<circle cx="326.6" cy="122.9" r="2.3"/>
<circle cx="332.1" cy="109.9" r="2.3"/>
<circle cx="335.9" cy="118.9" r="2.3"/>
<circle cx="332.0" cy="120.0" r="2.3"/>
<circle cx="338.9" cy="112.1" r="2.3"/>
<circle cx="333.2" cy="122.7" r="2.3"/>
<circle cx="340.0" cy="123.5" r="2.3"/>
<circle cx="345.1" cy="116.6" r="2.3"/>
<circle cx="338.1" cy="118.5" r="2.3"/>
<circle cx="333.4" cy="114.3" r="2.3"/>
<circle cx="327.3" cy="117.2" r="2.3"/>
<circle cx="341.7" cy="114.7" r="2.3"/>
<circle cx="337.2" cy="113.2" r="2.3"/>
<circle cx="335.5" cy="111.5" r="2.3"/>
<circle cx="336.3" cy="115.4" r="2.3"/>
<circle cx="335.9" cy="113.5" r="2.3"/>
<circle cx="326.9" cy="114.9" r="2.3"/>
<circle cx="340.2" cy="124.4" r="2.3"/>
<circle cx="332.1" cy="120.5" r="2.3"/>
<circle cx="338.6" cy="118.5" r="2.3"/>
<circle cx="324.7" cy="118.1" r="2.3"/>
<circle cx="328.2" cy="122.4" r="2.3"/>
<circle cx="338.7" cy="119.6" r="2.3"/>
<circle cx="318.8" cy="119.6" r="2.3"/>
<circle cx="338.2" cy="110.1" r="2.3"/>
<circle cx="339.8" cy="116.9" r="2.3"/>
<circle cx="332.9" cy="112.9" r="2.3"/>
<circle cx="327.9" cy="114.3" r="2.3"/>
<circle cx="335.2" cy="113.3" r="2.3"/>
<circle cx="330.3" cy="113.7" r="2.3"/>
<circle cx="328.7" cy="120.9" r="2.3"/>
<circle cx="332.4" cy="120.8" r="2.3"/>
<circle cx="327.1" cy="121.1" r="2.3"/>
<circle cx="350.3" cy="113.7" r="2.3"/>
<circle cx="349.9" cy="105.1" r="2.3"/>
<circle cx="357.8" cy="107.6" r="2.3"/>
<circle cx="349.6" cy="105.1" r="2.3"/>
<circle cx="351.7" cy="107.9" r="2.3"/>
<circle cx="352.2" cy="111.9" r="2.3"/>
<circle cx="346.4" cy="102.2" r="2.3"/>
<circle cx="353.1" cy="115.0" r="2.3"/>
<circle cx="354.7" cy="103.7" r="2.3"/>
<circle cx="354.1" cy="112.1" r="2.3"/>
<circle cx="352.2" cy="112.4" r="2.3"/>
<circle cx="348.6" cy="111.2" r="2.3"/>
<circle cx="356.1" cy="107.2" r="2.3"/>
<circle cx="341.9" cy="109.4" r="2.3"/>
<circle cx="351.7" cy="99.9" r="2.3"/>
<circle cx="346.4" cy="113.2" r="2.3"/>
<circle cx="349.6" cy="110.5" r="2.3"/>
<circle cx="342.9" cy="115.0" r="2.3"/>
<circle cx="361.0" cy="108.9" r="2.3"/>
<circle cx="346.1" cy="103.6" r="2.3"/>
<circle cx="355.8" cy="110.6" r="2.3"/>
<circle cx="345.7" cy="116.7" r="2.3"/>
<circle cx="355.1" cy="113.3" r="2.3"/>
<circle cx="339.9" cy="109.4" r="2.3"/>
<circle cx="354.3" cy="103.3" r="2.3"/>
<circle cx="356.1" cy="117.9" r="2.3"/>
<circle cx="356.7" cy="106.0" r="2.3"/>
<circle cx="346.3" cy="115.2" r="2.3"/>
<circle cx="356.5" cy="116.8" r="2.3"/>
<circle cx="357.7" cy="109.5" r="2.3"/>
<circle cx="348.0" cy="99.8" r="2.3"/>
<circle cx="347.7" cy="107.4" r="2.3"/>
<circle cx="354.4" cy="112.1" r="2.3"/>
<circle cx="342.3" cy="106.1" r="2.3"/>
<circle cx="343.9" cy="121.1" r="2.3"/>
<circle cx="346.2" cy="114.7" r="2.3"/>
<circle cx="362.0" cy="120.4" r="2.3"/>
<circle cx="359.1" cy="119.0" r="2.3"/>
<circle cx="343.1" cy="108.1" r="2.3"/>
<circle cx="346.1" cy="108.4" r="2.3"/>
<circle cx="353.8" cy="103.2" r="2.3"/>
<circle cx="358.5" cy="117.1" r="2.3"/>
<circle cx="347.4" cy="121.4" r="2.3"/>
<circle cx="350.9" cy="117.2" r="2.3"/>
<circle cx="352.4" cy="106.9" r="2.3"/>
<circle cx="348.2" cy="109.4" r="2.3"/>
<circle cx="354.2" cy="110.7" r="2.3"/>
<circle cx="364.7" cy="108.9" r="2.3"/>
<circle cx="347.7" cy="106.0" r="2.3"/>
<circle cx="345.8" cy="102.1" r="2.3"/>
<circle cx="344.6" cy="115.0" r="2.3"/>
<circle cx="350.9" cy="109.1" r="2.3"/>
<circle cx="352.6" cy="115.9" r="2.3"/>
<circle cx="354.2" cy="114.3" r="2.3"/>
<circle cx="347.1" cy="108.6" r="2.3"/>
<circle cx="345.8" cy="109.5" r="2.3"/>
<circle cx="345.6" cy="108.0" r="2.3"/>
<circle cx="349.5" cy="108.8" r="2.3"/>
<circle cx="348.9" cy="107.3" r="2.3"/>
<circle cx="358.4" cy="108.1" r="2.3"/>
<circle cx="359.9" cy="98.9" r="2.3"/>
<circle cx="359.6" cy="96.1" r="2.3"/>
<circle cx="363.8" cy="94.8" r="2.3"/>
<circle cx="351.9" cy="99.1" r="2.3"/>
<circle cx="367.2" cy="94.8" r="2.3"/>
<circle cx="360.3" cy="99.8" r="2.3"/>
<circle cx="356.3" cy="96.6" r="2.3"/>
<circle cx="359.2" cy="98.1" r="2.3"/>
<circle cx="356.4" cy="100.5" r="2.3"/>
<circle cx="363.0" cy="99.2" r="2.3"/>
<circle cx="362.3" cy="93.8" r="2.3"/>
<circle cx="363.0" cy="95.6" r="2.3"/>
<circle cx="363.5" cy="96.6" r="2.3"/>
<circle cx="325.6" cy="89.6" r="2.3"/>
<circle cx="333.0" cy="89.6" r="2.3"/>
<circle cx="347.0" cy="92.0" r="2.3"/>
<circle cx="299.6" cy="106.0" r="2.3"/>
<circle cx="309.6" cy="106.0" r="2.3"/>
<circle cx="284.6" cy="122.0" r="2.3"/>
<circle cx="287.4" cy="120.0" r="2.3"/>
<circle cx="293.6" cy="120.0" r="2.3"/>
<circle cx="291.6" cy="128.0" r="2.3"/>
<circle cx="298.6" cy="134.0" r="2.3"/>
<circle cx="299.0" cy="139.6" r="2.3"/>
<circle cx="310.6" cy="139.6" r="2.3"/>
<circle cx="310.9" cy="139.9" r="2.3"/>
<circle cx="311.2" cy="139.4" r="2.3"/>
<circle cx="317.0" cy="133.0" r="2.3"/>
<circle cx="323.0" cy="133.0" r="2.3"/>
<circle cx="329.0" cy="134.0" r="2.3"/>
<circle cx="334.0" cy="133.0" r="2.3"/>
<circle cx="341.0" cy="135.0" r="2.3"/>
<circle cx="341.0" cy="139.0" r="2.3"/>
<circle cx="321.0" cy="148.0" r="2.3"/>
<circle cx="319.6" cy="146.5" r="2.3"/>
<circle cx="322.4" cy="147.2" r="2.3"/>
<circle cx="339.0" cy="161.0" r="2.3"/>
<circle cx="345.0" cy="149.0" r="2.3"/>
<circle cx="353.0" cy="140.0" r="2.3"/>
<circle cx="351.0" cy="146.0" r="2.3"/>
<circle cx="355.0" cy="136.0" r="2.3"/>
<circle cx="352.0" cy="129.0" r="2.3"/>
<circle cx="357.0" cy="132.0" r="2.3"/>
<circle cx="363.0" cy="126.0" r="2.3"/>
<circle cx="366.0" cy="134.0" r="2.3"/>
<circle cx="369.0" cy="144.0" r="2.3"/>
<circle cx="371.0" cy="99.6" r="2.3"/>
<circle cx="422.6" cy="114.6" r="2.3"/>
<circle cx="396.6" cy="127.0" r="2.3"/>
<circle cx="363.6" cy="126.6" r="2.3"/>
<circle cx="358.0" cy="131.0" r="2.3"/>
<circle cx="352.0" cy="131.0" r="2.3"/>
<circle cx="367.0" cy="133.0" r="2.3"/>
<circle cx="370.0" cy="135.0" r="2.3"/>
<circle cx="373.0" cy="131.0" r="2.3"/>
<circle cx="372.0" cy="137.0" r="2.3"/>
<circle cx="376.0" cy="139.0" r="2.3"/>
<circle cx="379.0" cy="136.0" r="2.3"/>
<circle cx="377.0" cy="141.0" r="2.3"/>
<circle cx="369.0" cy="145.0" r="2.3"/>
<circle cx="376.0" cy="146.0" r="2.3"/>
<circle cx="353.0" cy="140.0" r="2.3"/>
<circle cx="351.0" cy="146.0" r="2.3"/>
<circle cx="333.0" cy="92.0" r="2.3"/>
<circle cx="305.0" cy="131.0" r="2.3"/>
<circle cx="312.0" cy="133.0" r="2.3"/>
<circle cx="327.0" cy="131.0" r="2.3"/>
<circle cx="337.0" cy="131.0" r="2.3"/>
<circle cx="346.0" cy="128.0" r="2.3"/>
<circle cx="349.0" cy="124.0" r="2.3"/>
<circle cx="303.0" cy="127.0" r="2.3"/>
<circle cx="300.0" cy="113.0" r="2.3"/>
<circle cx="297.0" cy="118.0" r="2.3"/>
</g>
<text x="308.8" y="98.9" font-size="9.2" text-anchor="start" fill="#000">Landes</text>
<text x="380.4" y="66.0" font-size="9.2" text-anchor="middle" fill="#000">Lot−</text>
<text x="380.6" y="80.0" font-size="9.2" text-anchor="middle" fill="#000">et−Garonne</text>
<text x="368.7" y="120.9" font-size="9.2" text-anchor="start" fill="#000">Gers</text>
<text x="406.6" y="143.0" font-size="9.2" text-anchor="middle" fill="#000">Haute−</text>
<text x="407.6" y="156.8" font-size="9.2" text-anchor="middle" fill="#000">Garonne</text>
<text x="364.5" y="154.6" font-size="9.2" text-anchor="middle" fill="#000">Hautes−</text>
<text x="365.5" y="168.4" font-size="9.2" text-anchor="middle" fill="#000">Pyrenees</text>
<text x="318.5" y="151.6" font-size="9.2" text-anchor="middle" fill="#000">Pyrenees−</text>
<text x="318.5" y="165.4" font-size="9.2" text-anchor="middle" fill="#000">Atlantiques</text>
<circle cx="257.6" cy="197.2" r="2.3" fill="none" stroke="#ff8c00" stroke-opacity="0.8" stroke-width="0.5"/>
<text x="263.2" y="200.2" font-size="9.2" text-anchor="start" fill="#000">Outbreaks</text>
<text x="241.7" y="8.5" font-size="10" font-weight="bold" fill="#000">B</text>
<clipPath id="clip222"><rect x="239.5" y="222.3" width="233.5" height="201.7"/></clipPath>
<g clip-path="url(#clip222)">
<rect x="239.5" y="222.3" width="233.5" height="201.7" fill="#fff"/>
<path d="M479.3 219.5L479.3 429.5L467.1 429.5L467.1 424.8L467.1 424.8L465.8 424.4L464.5 423.8L463.0 422.7L461.4 421.5L461.3 419.4L460.4 417.5L459.0 415.8L457.3 414.4L456.2 412.8L454.6 411.7L453.2 410.4L451.5 410.2L449.9 409.7L448.2 409.4L446.8 408.3L445.6 407.2L444.1 406.3L442.0 406.1L440.1 405.3L438.5 406.5L436.6 406.4L435.0 407.3L433.6 406.4L432.0 405.6L430.9 404.3L429.5 402.7L427.9 401.3L426.2 400.7L424.4 400.9L422.7 400.2L421.0 400.5L419.3 399.9L417.6 400.2L416.4 399.0L415.1 397.9L413.6 397.2L411.3 396.6L409.5 395.2L407.9 394.6L406.1 394.5L404.5 394.1L402.5 393.3L400.4 393.0L398.5 392.1L396.3 392.0L394.9 390.9L393.3 390.0L392.9 392.1L392.3 394.2L391.3 396.2L390.2 397.7L390.0 399.6L389.1 401.3L387.0 401.2L385.1 400.2L383.1 400.4L381.0 400.2L378.9 400.1L377.0 399.2L375.8 400.5L374.1 401.1L372.9 402.3L370.7 401.7L368.9 400.2L367.2 399.8L365.6 399.1L363.8 399.2L362.2 400.1L360.5 400.1L358.7 400.2L356.9 400.3L355.3 401.2L353.6 401.3L352.1 399.8L350.1 399.3L348.5 398.2L346.7 396.6L344.8 395.0L343.4 393.0L341.7 391.8L339.7 391.0L338.3 391.9L336.6 392.0L334.6 392.7L332.6 393.0L330.9 393.1L329.2 392.6L327.5 393.0L326.0 391.7L323.9 391.4L322.4 390.0L321.1 389.0L319.8 387.9L318.4 387.0L316.9 385.1L316.2 382.9L314.6 382.1L312.8 382.5L311.2 381.9L309.5 381.7L307.8 381.5L306.1 381.9L303.9 381.2L302.0 379.9L300.0 378.9L298.0 377.8L295.9 377.4L293.9 376.8L292.1 376.2L290.9 374.8L290.0 373.2L288.9 371.7L287.5 372.7L285.8 372.8L284.4 373.7L283.2 374.9L281.7 375.8L279.9 375.2L278.6 374.0L278.7 372.6L279.3 371.3L280.2 370.3L281.2 369.2L281.8 367.8L282.0 366.2L282.8 364.8L283.1 363.3L283.3 361.8L282.9 360.5L281.8 359.8L280.4 359.2L279.2 358.2L277.9 357.3L276.2 357.2L274.2 358.2L273.4 359.2L272.6 360.3L270.7 359.8L269.7 357.7L269.0 356.7L268.2 355.7L266.4 355.7L264.6 356.2L263.5 355.0L262.6 353.7L261.6 351.8L266.1 350.2L269.2 349.2L272.1 346.2L274.7 342.1L276.2 339.6L277.7 335.6L279.2 332.1L280.6 328.1L282.7 317.9L284.8 305.7L286.2 295.5L287.3 287.4L288.4 280.1L289.3 271.0L289.8 259.9L290.3 254.9L290.8 248.7L291.3 243.6L291.8 238.6L292.3 233.6L292.8 228.5L293.2 223.9L293.5 219.5Z" fill="#ecebde" stroke="#6c6c66" stroke-width="0.5"/>
<path d="M290.2 256.3L292.2 254.0L295.4 249.4L299.3 253.4L303.4 257.9L300.4 258.7L297.4 257.5L294.5 257.0L293.0 259.9L291.0 261.7L289.7 261.3Z" fill="#fff" stroke="none"/>
<path d="M290.2 256.3L292.2 254.0L295.4 249.4L299.3 253.4L303.4 257.9L300.4 258.7L297.4 257.5L294.5 257.0L293.0 259.9L291.0 261.7L289.7 261.3" fill="none" stroke="#6c6c66" stroke-width="0.5"/>
<ellipse cx="286.4" cy="265.9" rx="1.5" ry="3.4" transform="rotate(12 286.4 265.9)" fill="#fff" stroke="#6c6c66" stroke-width="0.5"/>
<path d="M289.7 271.4L291.8 270.6L293.9 270.0L295.4 268.7L297.1 267.8L299.0 267.3L301.2 268.0L303.1 269.4L303.2 271.5L304.1 273.4L305.8 273.4L307.5 273.9L309.1 274.4L310.9 274.6L312.5 274.2L314.2 274.0L316.4 274.3L318.3 273.2L320.4 272.8L322.0 274.6L323.4 276.5L325.1 277.3L327.0 277.4L328.5 278.5L329.4 280.3L331.3 281.1L332.6 282.6L334.2 284.0L335.6 285.6L335.8 288.0L336.6 290.3L338.8 290.5L340.7 291.7L342.4 290.3L343.7 288.6L345.4 288.6L346.8 287.6L348.5 288.8L349.9 290.3 M349.9 290.3L350.9 288.0L350.5 285.6L351.1 283.6L351.5 281.5L352.6 280.0L352.8 278.1L353.6 276.5L354.1 274.7L354.6 273.0L355.6 271.4L355.2 269.6L355.8 267.9L356.6 266.3L358.5 265.5L359.4 263.6L360.8 262.2L361.7 260.8L363.3 259.8L363.8 258.1L362.9 256.0L361.8 254.1L363.8 253.0L364.8 251.0L366.4 250.1L368.0 249.3L369.9 249.0L371.5 247.5L371.9 245.3 M371.9 245.3L370.5 243.9L369.9 241.9L368.0 242.1L366.4 243.1L364.8 243.9L362.9 243.8L361.2 244.3L359.7 245.5L358.1 244.8L356.1 245.1L354.6 243.9L354.4 241.7L355.6 239.9L356.1 237.8L356.6 235.8L358.0 234.0L358.6 231.7L358.4 229.9L359.4 228.3L359.9 226.6L358.2 226.2L356.9 225.1L355.6 223.9L354.6 221.8L355.1 219.5 M342.2 219.5L342.7 221.7L342.7 223.9L344.7 224.8L346.8 225.5L348.7 224.6L350.8 224.5L352.7 225.5L354.9 225.5L356.7 225.2L358.3 225.8L359.9 226.6 M371.9 245.3L372.9 247.5L373.4 249.8L373.9 252.0L374.2 253.9L375.5 255.3L376.0 257.1L377.7 257.4L379.3 257.7L381.0 257.1L382.5 255.9L384.6 256.3L386.1 255.1L387.9 254.9L389.6 254.8L391.3 254.1L393.3 254.7L395.3 255.1L397.4 255.4L399.4 256.1L400.5 258.0L400.4 260.1L402.6 260.1L404.5 261.2L406.6 261.2L408.5 262.2L410.7 262.2L412.6 263.2 M412.6 263.2L413.4 261.3L414.8 259.9L416.4 258.7L417.6 257.1L419.2 256.4L420.6 255.4L421.7 254.1L423.6 252.9L424.8 251.0L424.8 248.8L425.9 247.0L427.7 245.8L428.9 243.9L429.5 242.3L430.4 240.8L431.9 239.9L432.0 238.1L432.7 236.5L433.0 234.8L431.6 233.2L431.4 231.1L431.3 229.3L431.9 227.6L430.8 225.8L429.9 223.9L430.2 221.7L429.6 219.5 M431.4 231.1L433.2 230.5L435.1 230.0L437.0 229.6L439.1 229.9L441.1 230.6L442.8 231.2L443.4 233.2L445.1 233.8L446.1 235.3L447.6 236.1L449.2 236.8L451.2 237.2L453.2 237.8L454.5 236.7L455.8 235.6L457.3 234.8L459.4 234.5L461.4 233.8L463.6 232.9L465.5 231.6L466.8 229.9L468.5 228.6L470.6 228.1L472.2 226.6L474.0 226.2L475.4 224.8L477.3 224.5 M465.5 231.6L465.7 233.8L466.6 235.8L467.5 237.8L468.6 239.7L469.2 241.8L469.6 243.9L468.8 245.5L469.5 247.4L468.5 249.0L469.0 250.7L468.5 252.5L469.6 254.1L470.8 255.6L471.3 257.4L472.2 259.1L473.9 259.7L475.6 259.7L477.3 259.1 M412.6 263.2L411.2 264.3L410.5 265.9L409.5 267.3L409.2 269.2L410.6 270.7L410.5 272.4L410.3 274.2L411.4 275.8L411.6 277.5 M411.6 277.5L413.5 278.2L415.6 278.5L416.5 280.0L417.9 281.0L418.7 282.6L420.6 283.8L422.7 284.6L424.0 286.1L425.0 287.8L426.9 288.6L428.5 289.2L430.3 289.2L431.9 289.7L433.3 288.0L435.0 286.6L437.3 286.1L439.0 284.6L441.1 284.9L443.1 285.6L444.8 284.3L446.1 282.6L448.2 282.3L450.2 281.5L452.0 282.7L454.2 282.6 M454.2 282.6L454.1 280.5L455.2 278.5L455.3 276.5L454.1 275.0L454.1 273.0L453.2 271.4L454.9 270.0L456.3 268.4L458.2 267.6L460.0 266.7L461.4 265.2L463.0 264.2L465.0 264.4L466.5 263.2L468.4 262.6L470.3 262.4L472.2 262.2L473.9 261.6L475.6 262.2L477.3 262.2 M454.2 282.6L455.9 283.5L456.5 285.1L457.3 286.6L456.5 288.6L456.3 290.7L457.8 292.1L460.0 292.5L461.4 294.0L463.3 295.4L465.5 296.1L467.8 296.5L470.1 296.6L472.2 297.6L473.9 298.0L475.6 297.9L477.3 297.6 M456.3 290.7L455.3 292.3L454.2 293.9L453.2 295.5L451.7 295.9L450.2 296.6L448.5 296.7L446.7 296.8L445.1 297.6L443.7 299.4L443.1 301.6L444.0 303.6L444.1 305.7L442.4 307.4L440.1 307.7L439.6 310.0L438.0 311.8 M411.6 277.5L409.7 278.8L407.5 279.5L406.0 278.9L404.5 278.5L403.4 280.1L403.9 281.9L403.4 283.6L404.6 285.5L405.5 287.6L404.4 288.9L402.9 289.9L402.4 291.7L400.8 293.1L399.4 294.7L398.8 297.0L397.7 299.1 M361.5 305.6L363.2 305.6L364.9 305.6L366.4 304.6L368.0 305.5L369.9 305.4L371.5 306.1L373.4 304.9L375.5 304.7L377.6 304.1L379.4 302.7L381.4 301.9L383.6 301.5L385.6 300.7L387.6 300.0L388.6 301.6L390.1 302.6L391.7 303.6L392.9 302.4L394.7 302.1L395.6 300.5L396.4 299.4L397.7 299.1 M349.9 290.3L350.3 291.9L349.9 293.5L352.2 293.7L354.4 294.5L356.0 295.1L357.6 296.1L359.4 296.1L361.5 296.6L363.5 297.5L362.5 299.2L362.5 301.1L361.3 303.2L361.5 305.6 M361.5 305.6L361.2 307.6L360.2 309.5L360.5 311.6L358.7 311.5L357.4 312.6L356.4 311.0L355.0 309.5L354.4 307.6L353.0 309.2L351.3 310.0L349.4 310.7L347.9 311.7L346.8 313.2L344.8 313.6L345.3 315.9L345.4 318.2L345.8 320.4L345.8 322.7L345.1 325.0L345.0 327.4L344.7 329.7L344.3 332.1L344.5 334.0L345.0 335.9 M276.2 339.6L277.7 340.5L279.2 341.1L281.3 341.7L283.3 342.6L285.2 341.9L287.2 342.1L289.3 341.7L291.3 341.1L292.1 339.5L293.8 339.1L295.6 340.1L296.4 342.1L298.4 342.1L300.4 342.6L301.8 341.0L303.8 340.0L305.9 340.0L307.7 338.7L309.8 338.7L311.9 338.7L313.8 338.0L315.8 338.0L317.8 338.8L319.9 338.0L322.0 338.3L323.9 339.0L325.9 338.1L327.9 337.8L330.0 337.5L332.0 336.9L333.7 336.8L335.3 337.7L337.0 338.0L339.1 337.7L341.1 337.2L343.2 336.9L345.0 335.9 M345.0 335.9L346.8 337.2L347.5 339.3L348.7 337.9L349.5 336.2L351.2 335.5L352.5 334.2L353.8 335.6L355.6 336.2L357.1 337.3L358.2 338.5L358.7 340.3L360.0 342.1L361.8 343.3L362.6 345.5L363.8 347.4L366.1 347.9L367.9 349.4L369.6 351.0L371.9 351.5L373.8 352.9L376.0 353.6L378.0 354.3L380.0 354.6L381.6 355.3L383.4 355.4L385.1 355.6L386.8 355.0L388.4 354.3L390.3 354.6 M390.3 354.6L391.1 353.1L392.4 352.0L393.3 350.5L395.1 350.4L396.8 350.7L398.4 351.5L400.3 350.6L402.4 350.9L404.5 350.5L406.4 350.5L408.0 349.5L409.5 348.5L409.5 346.5L410.7 345.0L411.6 343.3L412.8 341.4L413.6 339.3L415.0 338.0L417.1 338.3L418.7 337.2L417.8 335.8L417.6 334.2L416.2 332.9L415.3 331.2L413.6 330.1L412.6 328.4L410.4 327.9L409.5 326.1L408.9 324.1L408.0 322.4L406.5 321.0 M397.7 299.1L397.5 300.5L398.4 301.6L397.0 303.5L396.3 305.7L396.2 307.4L395.9 309.1L395.3 310.8L397.3 310.8L398.8 312.0L400.4 312.9L401.7 314.1L402.8 315.3L403.4 317.0L403.9 318.7L405.0 320.0L406.5 321.0 M406.5 321.0L408.3 321.1L409.8 320.0L411.6 320.0L413.1 319.1L414.9 319.2L416.6 319.0L418.4 318.7L420.1 319.4L421.7 320.0L423.8 319.1L425.9 318.0L427.2 316.2L428.9 314.9L430.9 314.2L433.0 313.9L434.5 313.0L436.5 313.0L438.0 311.8 M438.0 311.8L439.4 313.2L438.9 315.4L440.1 317.0L440.9 318.7L442.0 320.4L443.1 322.0L443.9 323.9L445.7 325.0L446.1 327.1L445.3 328.7L445.8 330.5L445.1 332.2L446.6 333.1L447.8 334.2L449.2 335.2L450.2 336.7L452.1 336.9L453.2 338.3L454.6 339.3L455.5 340.9L457.3 341.3L459.6 341.9L461.4 343.3L462.8 344.6L464.5 345.5L466.1 346.1L467.1 347.6L468.5 348.5L470.4 348.9L472.2 349.5L473.9 349.6L475.6 348.8L477.3 349.5 M464.5 345.5L462.9 346.2L460.9 345.5L459.3 346.5L457.4 347.5L455.3 347.5L454.1 348.7L452.1 348.9L451.2 350.5L451.1 352.7L450.2 354.6L448.6 355.5L447.1 356.6L446.7 358.7L446.1 360.7L448.0 361.5L448.7 363.5L450.2 364.7L451.5 365.8L452.5 367.3L454.2 367.8L454.7 369.6L456.8 370.1L457.3 371.8L458.2 373.6L459.6 375.1L460.4 376.9L461.9 378.6L462.5 380.9L460.9 381.8L460.9 384.0L459.3 384.9L458.3 386.3L457.6 387.9L456.3 389.0L455.2 391.0L454.2 393.0L455.9 393.7L456.7 395.6L458.4 396.2L460.1 396.8L462.0 397.1L463.5 398.2L464.9 399.6L467.1 399.8L468.5 401.3L470.2 402.6L472.2 403.3L473.9 402.9L475.6 403.8L477.3 403.3 M446.1 360.7L444.0 360.4L442.2 359.1L440.1 358.6L438.5 357.7L436.7 357.3L435.0 356.6L433.4 355.7L431.6 355.9L429.9 355.6L428.5 356.5L426.9 356.6L425.8 358.0L424.6 359.2L423.8 360.7L424.6 362.3L425.1 364.1L425.9 365.8L425.4 367.5L424.1 368.7L422.8 369.8L421.0 369.7L419.4 370.7L417.6 370.8L416.0 371.6L414.2 371.1L412.6 371.8L412.1 373.6L411.1 375.0L409.5 375.9L408.5 377.9L406.5 378.9L405.3 380.9L403.4 382.3L403.0 384.2L401.7 385.5L400.4 386.9L401.1 388.5L400.4 390.4L401.4 391.9L403.2 392.7L404.5 394.1 M453.2 410.4L455.0 409.8L456.6 408.7L458.4 408.4L460.2 408.0L461.6 406.5L463.5 406.3L465.1 405.5L466.7 404.6L468.5 404.5L470.3 404.0L472.2 404.1L473.9 403.7L475.6 404.0L477.3 404.1 M390.3 354.6L388.6 356.2L388.1 358.4L387.7 360.2L386.4 361.4L385.1 362.5L383.8 363.7L382.3 364.9L381.5 366.6L381.2 368.6L380.5 370.6L382.0 372.0L383.1 373.7L384.6 374.5L385.9 375.5L387.2 376.7L388.2 378.8L389.2 380.8L388.2 382.3L388.6 384.4L387.2 385.8L385.4 387.3L383.1 387.9L382.4 390.1L381.0 391.9L380.9 393.6L380.6 395.3L381.0 397.0L382.2 398.3L382.0 400.0 M355.6 336.2L356.3 338.6L355.6 340.9L356.0 342.7L355.3 344.5L355.1 346.3L354.1 348.2L353.0 350.1L352.9 352.4L352.1 354.5L351.0 356.5L349.9 358.4L348.3 360.2L347.4 362.4L346.8 364.6L345.4 366.2L345.6 368.3L344.2 369.8L343.7 371.7L343.6 373.5L344.7 375.0L344.7 376.8L344.0 378.4L342.2 379.1L341.7 380.9L341.4 382.7L340.6 384.3L339.7 385.9L340.3 387.6L339.1 389.3L339.7 391.0" fill="none" stroke="#6c6c66" stroke-width="0.5" stroke-linejoin="round"/>
</g>
<rect x="239.5" y="222.3" width="233.5" height="201.7" fill="none" stroke="#7a7a7a" stroke-width="0.8"/>
<g fill="#ff8c00" stroke="#3a2605" stroke-width="0.5">
<circle cx="309.4" cy="322.3" r="2.2"/>
<circle cx="330.7" cy="316.5" r="2.2"/>
<circle cx="321.4" cy="316.7" r="2.2"/>
<circle cx="335.7" cy="329.0" r="2.2"/>
<circle cx="338.6" cy="325.5" r="2.2"/>
<circle cx="327.6" cy="326.6" r="2.2"/>
<circle cx="314.5" cy="328.7" r="2.2"/>
<circle cx="308.5" cy="326.2" r="2.2"/>
<circle cx="331.0" cy="328.3" r="2.2"/>
<circle cx="323.7" cy="325.1" r="2.2"/>
<circle cx="324.8" cy="325.4" r="2.2"/>
<circle cx="318.6" cy="326.2" r="2.2"/>
<circle cx="346.3" cy="328.1" r="2.2"/>
<circle cx="325.0" cy="331.4" r="2.2"/>
<circle cx="346.2" cy="326.9" r="2.2"/>
<circle cx="306.2" cy="326.2" r="2.2"/>
<circle cx="330.6" cy="325.4" r="2.2"/>
<circle cx="318.5" cy="330.3" r="2.2"/>
<circle cx="325.6" cy="329.5" r="2.2"/>
<circle cx="318.0" cy="334.4" r="2.2"/>
<circle cx="340.3" cy="328.2" r="2.2"/>
<circle cx="317.8" cy="331.7" r="2.2"/>
<circle cx="328.5" cy="322.8" r="2.2"/>
<circle cx="317.7" cy="333.2" r="2.2"/>
<circle cx="321.9" cy="326.4" r="2.2"/>
<circle cx="325.4" cy="327.8" r="2.2"/>
<circle cx="323.0" cy="318.3" r="2.2"/>
<circle cx="343.1" cy="329.0" r="2.2"/>
<circle cx="312.9" cy="332.9" r="2.2"/>
<circle cx="326.6" cy="328.1" r="2.2"/>
<circle cx="335.1" cy="339.3" r="2.2"/>
<circle cx="329.4" cy="335.9" r="2.2"/>
<circle cx="347.8" cy="322.9" r="2.2"/>
<circle cx="317.0" cy="331.9" r="2.2"/>
<circle cx="303.4" cy="326.7" r="2.2"/>
<circle cx="337.9" cy="333.2" r="2.2"/>
<circle cx="329.7" cy="318.5" r="2.2"/>
<circle cx="350.0" cy="330.8" r="2.2"/>
<circle cx="331.8" cy="330.5" r="2.2"/>
<circle cx="313.4" cy="326.8" r="2.2"/>
<circle cx="320.1" cy="330.9" r="2.2"/>
<circle cx="328.8" cy="329.3" r="2.2"/>
<circle cx="324.9" cy="329.3" r="2.2"/>
<circle cx="337.2" cy="327.5" r="2.2"/>
<circle cx="316.0" cy="330.1" r="2.2"/>
<circle cx="305.1" cy="322.8" r="2.2"/>
<circle cx="311.4" cy="329.4" r="2.2"/>
<circle cx="347.0" cy="331.8" r="2.2"/>
<circle cx="336.1" cy="329.2" r="2.2"/>
<circle cx="326.2" cy="325.8" r="2.2"/>
<circle cx="319.8" cy="315.9" r="2.2"/>
<circle cx="309.2" cy="321.6" r="2.2"/>
<circle cx="332.6" cy="331.3" r="2.2"/>
<circle cx="336.1" cy="335.8" r="2.2"/>
<circle cx="319.5" cy="333.3" r="2.2"/>
<circle cx="345.5" cy="328.0" r="2.2"/>
<circle cx="335.5" cy="327.2" r="2.2"/>
<circle cx="304.5" cy="328.6" r="2.2"/>
<circle cx="313.5" cy="328.5" r="2.2"/>
<circle cx="317.7" cy="329.6" r="2.2"/>
<circle cx="338.6" cy="326.2" r="2.2"/>
<circle cx="312.5" cy="328.0" r="2.2"/>
<circle cx="330.8" cy="330.1" r="2.2"/>
<circle cx="327.6" cy="318.2" r="2.2"/>
<circle cx="310.0" cy="334.7" r="2.2"/>
<circle cx="325.8" cy="320.4" r="2.2"/>
<circle cx="313.0" cy="320.8" r="2.2"/>
<circle cx="311.3" cy="333.9" r="2.2"/>
<circle cx="320.4" cy="333.7" r="2.2"/>
<circle cx="325.2" cy="320.4" r="2.2"/>
<circle cx="314.1" cy="322.7" r="2.2"/>
<circle cx="337.4" cy="328.5" r="2.2"/>
<circle cx="322.9" cy="335.5" r="2.2"/>
<circle cx="302.4" cy="330.1" r="2.2"/>
<circle cx="310.7" cy="320.9" r="2.2"/>
<circle cx="313.5" cy="333.9" r="2.2"/>
<circle cx="321.4" cy="318.6" r="2.2"/>
<circle cx="310.0" cy="335.8" r="2.2"/>
<circle cx="335.0" cy="322.4" r="2.2"/>
<circle cx="351.5" cy="326.1" r="2.2"/>
<circle cx="309.0" cy="327.3" r="2.2"/>
<circle cx="334.0" cy="336.2" r="2.2"/>
<circle cx="335.1" cy="325.8" r="2.2"/>
<circle cx="316.4" cy="320.6" r="2.2"/>
<circle cx="322.1" cy="325.0" r="2.2"/>
<circle cx="325.9" cy="321.5" r="2.2"/>
<circle cx="316.9" cy="323.5" r="2.2"/>
<circle cx="308.8" cy="321.9" r="2.2"/>
<circle cx="311.0" cy="322.0" r="2.2"/>
<circle cx="329.7" cy="328.5" r="2.2"/>
<circle cx="307.5" cy="330.6" r="2.2"/>
<circle cx="326.4" cy="335.5" r="2.2"/>
<circle cx="320.7" cy="326.9" r="2.2"/>
<circle cx="314.9" cy="328.6" r="2.2"/>
<circle cx="328.8" cy="328.9" r="2.2"/>
<circle cx="320.0" cy="330.9" r="2.2"/>
<circle cx="324.1" cy="329.3" r="2.2"/>
<circle cx="312.0" cy="329.1" r="2.2"/>
<circle cx="311.3" cy="323.7" r="2.2"/>
<circle cx="334.7" cy="328.0" r="2.2"/>
<circle cx="320.9" cy="333.1" r="2.2"/>
<circle cx="339.3" cy="334.2" r="2.2"/>
<circle cx="320.8" cy="329.0" r="2.2"/>
<circle cx="319.1" cy="326.5" r="2.2"/>
<circle cx="312.9" cy="326.7" r="2.2"/>
<circle cx="328.0" cy="323.3" r="2.2"/>
<circle cx="329.4" cy="321.4" r="2.2"/>
<circle cx="318.7" cy="330.0" r="2.2"/>
<circle cx="310.8" cy="324.3" r="2.2"/>
<circle cx="352.1" cy="324.5" r="2.2"/>
<circle cx="314.7" cy="325.1" r="2.2"/>
<circle cx="323.4" cy="327.9" r="2.2"/>
<circle cx="334.6" cy="332.1" r="2.2"/>
<circle cx="318.3" cy="326.2" r="2.2"/>
<circle cx="306.4" cy="320.3" r="2.2"/>
<circle cx="314.3" cy="331.7" r="2.2"/>
<circle cx="324.4" cy="332.1" r="2.2"/>
<circle cx="334.1" cy="327.2" r="2.2"/>
<circle cx="347.7" cy="325.3" r="2.2"/>
<circle cx="315.6" cy="325.8" r="2.2"/>
<circle cx="336.4" cy="327.3" r="2.2"/>
<circle cx="314.3" cy="330.2" r="2.2"/>
<circle cx="336.3" cy="327.4" r="2.2"/>
<circle cx="320.0" cy="333.5" r="2.2"/>
<circle cx="334.6" cy="332.8" r="2.2"/>
<circle cx="314.0" cy="329.4" r="2.2"/>
<circle cx="327.3" cy="318.8" r="2.2"/>
<circle cx="337.1" cy="328.5" r="2.2"/>
<circle cx="324.7" cy="324.3" r="2.2"/>
<circle cx="322.3" cy="330.9" r="2.2"/>
<circle cx="332.6" cy="327.7" r="2.2"/>
<circle cx="312.8" cy="324.4" r="2.2"/>
<circle cx="313.4" cy="322.6" r="2.2"/>
<circle cx="322.8" cy="325.5" r="2.2"/>
<circle cx="323.6" cy="323.8" r="2.2"/>
<circle cx="312.8" cy="327.1" r="2.2"/>
<circle cx="318.9" cy="333.9" r="2.2"/>
<circle cx="312.4" cy="329.1" r="2.2"/>
<circle cx="322.5" cy="321.3" r="2.2"/>
<circle cx="331.5" cy="328.9" r="2.2"/>
<circle cx="334.0" cy="323.9" r="2.2"/>
<circle cx="342.9" cy="328.8" r="2.2"/>
<circle cx="309.5" cy="330.9" r="2.2"/>
<circle cx="318.8" cy="321.2" r="2.2"/>
<circle cx="314.4" cy="331.3" r="2.2"/>
<circle cx="327.5" cy="325.3" r="2.2"/>
<circle cx="316.8" cy="337.0" r="2.2"/>
<circle cx="343.0" cy="331.8" r="2.2"/>
<circle cx="318.8" cy="323.0" r="2.2"/>
<circle cx="318.5" cy="336.5" r="2.2"/>
<circle cx="328.4" cy="326.5" r="2.2"/>
<circle cx="308.6" cy="328.9" r="2.2"/>
<circle cx="312.7" cy="328.1" r="2.2"/>
<circle cx="331.7" cy="333.5" r="2.2"/>
<circle cx="324.6" cy="326.3" r="2.2"/>
<circle cx="325.7" cy="337.2" r="2.2"/>
<circle cx="327.4" cy="320.9" r="2.2"/>
<circle cx="341.2" cy="329.3" r="2.2"/>
<circle cx="321.9" cy="326.5" r="2.2"/>
<circle cx="327.4" cy="325.1" r="2.2"/>
<circle cx="321.6" cy="325.4" r="2.2"/>
<circle cx="332.3" cy="333.5" r="2.2"/>
<circle cx="317.2" cy="329.5" r="2.2"/>
<circle cx="320.5" cy="327.0" r="2.2"/>
<circle cx="331.7" cy="331.1" r="2.2"/>
<circle cx="326.6" cy="328.8" r="2.2"/>
<circle cx="306.1" cy="324.2" r="2.2"/>
<circle cx="327.5" cy="326.1" r="2.2"/>
<circle cx="313.9" cy="329.8" r="2.2"/>
<circle cx="312.2" cy="324.6" r="2.2"/>
<circle cx="333.3" cy="326.2" r="2.2"/>
<circle cx="339.7" cy="330.7" r="2.2"/>
<circle cx="332.5" cy="333.7" r="2.2"/>
<circle cx="307.9" cy="325.6" r="2.2"/>
<circle cx="321.8" cy="334.3" r="2.2"/>
<circle cx="322.5" cy="336.3" r="2.2"/>
<circle cx="316.9" cy="327.7" r="2.2"/>
<circle cx="324.1" cy="332.8" r="2.2"/>
<circle cx="322.4" cy="324.9" r="2.2"/>
<circle cx="319.2" cy="320.9" r="2.2"/>
<circle cx="337.7" cy="331.8" r="2.2"/>
<circle cx="328.0" cy="329.4" r="2.2"/>
<circle cx="315.9" cy="325.9" r="2.2"/>
<circle cx="332.4" cy="324.0" r="2.2"/>
<circle cx="313.9" cy="336.0" r="2.2"/>
<circle cx="341.2" cy="329.5" r="2.2"/>
<circle cx="329.2" cy="328.9" r="2.2"/>
<circle cx="339.6" cy="325.8" r="2.2"/>
<circle cx="324.0" cy="330.4" r="2.2"/>
<circle cx="339.8" cy="326.7" r="2.2"/>
<circle cx="325.7" cy="325.5" r="2.2"/>
<circle cx="315.4" cy="324.7" r="2.2"/>
<circle cx="324.0" cy="332.5" r="2.2"/>
<circle cx="315.0" cy="325.0" r="2.2"/>
<circle cx="318.3" cy="329.8" r="2.2"/>
<circle cx="331.1" cy="321.7" r="2.2"/>
<circle cx="327.1" cy="323.0" r="2.2"/>
<circle cx="331.3" cy="323.2" r="2.2"/>
<circle cx="310.5" cy="324.4" r="2.2"/>
<circle cx="322.3" cy="323.0" r="2.2"/>
<circle cx="325.4" cy="328.7" r="2.2"/>
<circle cx="324.0" cy="329.4" r="2.2"/>
<circle cx="333.1" cy="324.3" r="2.2"/>
<circle cx="323.0" cy="327.9" r="2.2"/>
<circle cx="314.1" cy="324.4" r="2.2"/>
<circle cx="317.9" cy="328.5" r="2.2"/>
<circle cx="326.8" cy="330.4" r="2.2"/>
<circle cx="315.0" cy="331.5" r="2.2"/>
<circle cx="327.8" cy="326.0" r="2.2"/>
<circle cx="322.8" cy="332.0" r="2.2"/>
<circle cx="328.0" cy="331.5" r="2.2"/>
<circle cx="324.2" cy="333.7" r="2.2"/>
<circle cx="348.6" cy="330.3" r="2.2"/>
<circle cx="316.4" cy="321.1" r="2.2"/>
<circle cx="335.6" cy="333.0" r="2.2"/>
<circle cx="318.6" cy="335.2" r="2.2"/>
<circle cx="322.1" cy="325.0" r="2.2"/>
<circle cx="323.8" cy="329.1" r="2.2"/>
<circle cx="323.6" cy="330.0" r="2.2"/>
<circle cx="316.5" cy="331.3" r="2.2"/>
<circle cx="307.2" cy="329.6" r="2.2"/>
<circle cx="310.9" cy="323.5" r="2.2"/>
<circle cx="314.3" cy="331.2" r="2.2"/>
<circle cx="305.3" cy="321.7" r="2.2"/>
<circle cx="308.1" cy="326.1" r="2.2"/>
<circle cx="312.7" cy="328.9" r="2.2"/>
<circle cx="321.7" cy="331.3" r="2.2"/>
<circle cx="310.5" cy="329.6" r="2.2"/>
<circle cx="306.5" cy="328.6" r="2.2"/>
<circle cx="313.9" cy="329.7" r="2.2"/>
<circle cx="317.6" cy="326.6" r="2.2"/>
<circle cx="313.8" cy="328.5" r="2.2"/>
<circle cx="312.1" cy="330.1" r="2.2"/>
<circle cx="310.3" cy="329.7" r="2.2"/>
<circle cx="311.8" cy="332.6" r="2.2"/>
<circle cx="311.3" cy="330.1" r="2.2"/>
<circle cx="327.6" cy="331.2" r="2.2"/>
<circle cx="315.1" cy="332.8" r="2.2"/>
<circle cx="306.0" cy="331.5" r="2.2"/>
<circle cx="316.5" cy="330.5" r="2.2"/>
<circle cx="317.8" cy="331.7" r="2.2"/>
<circle cx="319.1" cy="326.8" r="2.2"/>
<circle cx="314.6" cy="327.1" r="2.2"/>
<circle cx="319.4" cy="329.5" r="2.2"/>
<circle cx="304.2" cy="329.4" r="2.2"/>
<circle cx="306.0" cy="332.4" r="2.2"/>
<circle cx="310.0" cy="321.4" r="2.2"/>
<circle cx="309.7" cy="332.6" r="2.2"/>
<circle cx="314.0" cy="326.8" r="2.2"/>
<circle cx="315.9" cy="331.0" r="2.2"/>
<circle cx="320.8" cy="332.2" r="2.2"/>
<circle cx="314.2" cy="326.3" r="2.2"/>
<circle cx="313.7" cy="330.1" r="2.2"/>
<circle cx="312.1" cy="330.5" r="2.2"/>
<circle cx="304.9" cy="331.0" r="2.2"/>
<circle cx="312.1" cy="330.2" r="2.2"/>
<circle cx="311.4" cy="328.0" r="2.2"/>
<circle cx="313.5" cy="331.7" r="2.2"/>
<circle cx="310.1" cy="330.1" r="2.2"/>
<circle cx="307.4" cy="330.5" r="2.2"/>
<circle cx="312.1" cy="324.5" r="2.2"/>
<circle cx="318.9" cy="325.9" r="2.2"/>
<circle cx="312.5" cy="324.4" r="2.2"/>
<circle cx="301.7" cy="331.3" r="2.2"/>
<circle cx="303.6" cy="321.8" r="2.2"/>
<circle cx="310.7" cy="323.6" r="2.2"/>
<circle cx="310.8" cy="335.4" r="2.2"/>
<circle cx="309.7" cy="330.2" r="2.2"/>
<circle cx="315.3" cy="329.9" r="2.2"/>
<circle cx="311.3" cy="334.2" r="2.2"/>
<circle cx="311.5" cy="330.2" r="2.2"/>
<circle cx="312.7" cy="324.5" r="2.2"/>
<circle cx="313.9" cy="329.2" r="2.2"/>
<circle cx="315.9" cy="331.4" r="2.2"/>
<circle cx="321.3" cy="322.4" r="2.2"/>
<circle cx="308.7" cy="327.4" r="2.2"/>
<circle cx="306.9" cy="330.4" r="2.2"/>
<circle cx="311.5" cy="329.5" r="2.2"/>
<circle cx="302.3" cy="325.7" r="2.2"/>
<circle cx="311.6" cy="327.5" r="2.2"/>
<circle cx="308.4" cy="328.6" r="2.2"/>
<circle cx="310.4" cy="325.3" r="2.2"/>
<circle cx="321.9" cy="326.7" r="2.2"/>
<circle cx="315.9" cy="331.1" r="2.2"/>
<circle cx="317.7" cy="327.0" r="2.2"/>
<circle cx="306.1" cy="330.5" r="2.2"/>
<circle cx="313.5" cy="320.8" r="2.2"/>
<circle cx="309.7" cy="328.1" r="2.2"/>
<circle cx="314.5" cy="325.6" r="2.2"/>
<circle cx="327.7" cy="332.1" r="2.2"/>
<circle cx="319.7" cy="329.9" r="2.2"/>
<circle cx="308.7" cy="330.5" r="2.2"/>
<circle cx="311.3" cy="331.3" r="2.2"/>
<circle cx="306.8" cy="327.7" r="2.2"/>
<circle cx="312.0" cy="326.4" r="2.2"/>
<circle cx="309.3" cy="331.1" r="2.2"/>
<circle cx="323.4" cy="328.3" r="2.2"/>
<circle cx="316.9" cy="325.1" r="2.2"/>
<circle cx="309.3" cy="330.1" r="2.2"/>
<circle cx="315.4" cy="325.5" r="2.2"/>
<circle cx="315.6" cy="329.5" r="2.2"/>
<circle cx="319.8" cy="332.2" r="2.2"/>
<circle cx="315.2" cy="327.6" r="2.2"/>
<circle cx="313.5" cy="326.0" r="2.2"/>
<circle cx="307.1" cy="322.6" r="2.2"/>
<circle cx="304.3" cy="324.6" r="2.2"/>
<circle cx="311.4" cy="329.3" r="2.2"/>
<circle cx="304.0" cy="328.7" r="2.2"/>
<circle cx="314.4" cy="332.2" r="2.2"/>
<circle cx="311.4" cy="329.7" r="2.2"/>
<circle cx="309.8" cy="332.2" r="2.2"/>
<circle cx="302.8" cy="329.8" r="2.2"/>
<circle cx="317.4" cy="321.7" r="2.2"/>
<circle cx="308.9" cy="324.1" r="2.2"/>
<circle cx="301.5" cy="327.6" r="2.2"/>
<circle cx="306.8" cy="332.6" r="2.2"/>
<circle cx="308.9" cy="325.2" r="2.2"/>
<circle cx="311.5" cy="330.4" r="2.2"/>
<circle cx="316.8" cy="330.7" r="2.2"/>
<circle cx="303.1" cy="326.1" r="2.2"/>
<circle cx="340.5" cy="322.4" r="2.2"/>
<circle cx="347.8" cy="325.1" r="2.2"/>
<circle cx="341.3" cy="324.9" r="2.2"/>
<circle cx="342.3" cy="318.8" r="2.2"/>
<circle cx="336.2" cy="317.3" r="2.2"/>
<circle cx="341.2" cy="319.5" r="2.2"/>
<circle cx="344.5" cy="333.4" r="2.2"/>
<circle cx="346.7" cy="324.5" r="2.2"/>
<circle cx="351.9" cy="325.9" r="2.2"/>
<circle cx="341.5" cy="327.3" r="2.2"/>
<circle cx="338.1" cy="329.2" r="2.2"/>
<circle cx="332.2" cy="317.3" r="2.2"/>
<circle cx="351.3" cy="322.9" r="2.2"/>
<circle cx="339.1" cy="328.7" r="2.2"/>
<circle cx="338.2" cy="320.5" r="2.2"/>
<circle cx="340.3" cy="321.8" r="2.2"/>
<circle cx="346.2" cy="324.5" r="2.2"/>
<circle cx="339.8" cy="331.1" r="2.2"/>
<circle cx="329.7" cy="318.9" r="2.2"/>
<circle cx="347.6" cy="333.8" r="2.2"/>
<circle cx="342.6" cy="323.1" r="2.2"/>
<circle cx="351.5" cy="329.7" r="2.2"/>
<circle cx="340.9" cy="321.3" r="2.2"/>
<circle cx="333.2" cy="330.0" r="2.2"/>
<circle cx="347.6" cy="324.4" r="2.2"/>
<circle cx="339.9" cy="334.4" r="2.2"/>
<circle cx="347.0" cy="326.3" r="2.2"/>
<circle cx="345.9" cy="327.5" r="2.2"/>
<circle cx="331.9" cy="324.1" r="2.2"/>
<circle cx="344.1" cy="330.3" r="2.2"/>
<circle cx="332.4" cy="322.6" r="2.2"/>
<circle cx="337.3" cy="318.7" r="2.2"/>
<circle cx="350.5" cy="329.4" r="2.2"/>
<circle cx="335.5" cy="336.7" r="2.2"/>
<circle cx="330.8" cy="317.1" r="2.2"/>
<circle cx="343.6" cy="335.4" r="2.2"/>
<circle cx="346.9" cy="321.7" r="2.2"/>
<circle cx="346.2" cy="329.1" r="2.2"/>
<circle cx="344.0" cy="329.0" r="2.2"/>
<circle cx="348.4" cy="333.2" r="2.2"/>
<circle cx="352.7" cy="332.7" r="2.2"/>
<circle cx="340.7" cy="316.9" r="2.2"/>
<circle cx="346.2" cy="318.8" r="2.2"/>
<circle cx="327.4" cy="316.9" r="2.2"/>
<circle cx="345.0" cy="328.5" r="2.2"/>
<circle cx="347.0" cy="328.5" r="2.2"/>
<circle cx="335.8" cy="331.3" r="2.2"/>
<circle cx="336.4" cy="318.8" r="2.2"/>
<circle cx="349.0" cy="329.8" r="2.2"/>
<circle cx="334.5" cy="325.6" r="2.2"/>
<circle cx="350.0" cy="332.0" r="2.2"/>
<circle cx="333.4" cy="332.9" r="2.2"/>
<circle cx="321.5" cy="327.4" r="2.2"/>
<circle cx="344.9" cy="326.3" r="2.2"/>
<circle cx="342.8" cy="318.2" r="2.2"/>
<circle cx="340.9" cy="329.6" r="2.2"/>
<circle cx="334.6" cy="327.7" r="2.2"/>
<circle cx="337.1" cy="330.1" r="2.2"/>
<circle cx="329.6" cy="327.1" r="2.2"/>
<circle cx="344.5" cy="320.0" r="2.2"/>
<circle cx="339.9" cy="331.8" r="2.2"/>
<circle cx="347.6" cy="321.6" r="2.2"/>
<circle cx="349.9" cy="328.8" r="2.2"/>
<circle cx="342.9" cy="335.1" r="2.2"/>
<circle cx="347.7" cy="328.9" r="2.2"/>
<circle cx="349.5" cy="330.6" r="2.2"/>
<circle cx="351.9" cy="326.3" r="2.2"/>
<circle cx="327.9" cy="335.4" r="2.2"/>
<circle cx="348.3" cy="329.8" r="2.2"/>
<circle cx="342.3" cy="326.5" r="2.2"/>
<circle cx="342.8" cy="321.8" r="2.2"/>
<circle cx="348.0" cy="327.4" r="2.2"/>
<circle cx="334.4" cy="328.4" r="2.2"/>
<circle cx="339.4" cy="326.8" r="2.2"/>
<circle cx="333.5" cy="329.2" r="2.2"/>
<circle cx="347.6" cy="329.3" r="2.2"/>
<circle cx="353.7" cy="324.6" r="2.2"/>
<circle cx="339.4" cy="326.9" r="2.2"/>
<circle cx="331.1" cy="333.0" r="2.2"/>
<circle cx="332.2" cy="329.9" r="2.2"/>
<circle cx="351.4" cy="322.4" r="2.2"/>
<circle cx="340.6" cy="325.9" r="2.2"/>
<circle cx="355.6" cy="328.4" r="2.2"/>
<circle cx="328.1" cy="332.8" r="2.2"/>
<circle cx="350.3" cy="334.7" r="2.2"/>
<circle cx="323.1" cy="333.9" r="2.2"/>
<circle cx="347.6" cy="326.9" r="2.2"/>
<circle cx="336.4" cy="329.1" r="2.2"/>
<circle cx="335.5" cy="327.9" r="2.2"/>
<circle cx="339.9" cy="324.6" r="2.2"/>
<circle cx="346.3" cy="332.3" r="2.2"/>
<circle cx="349.0" cy="329.4" r="2.2"/>
<circle cx="342.5" cy="328.0" r="2.2"/>
<circle cx="338.5" cy="325.3" r="2.2"/>
<circle cx="343.9" cy="326.5" r="2.2"/>
<circle cx="345.4" cy="332.3" r="2.2"/>
<circle cx="340.6" cy="336.2" r="2.2"/>
<circle cx="332.4" cy="333.8" r="2.2"/>
<circle cx="347.6" cy="332.4" r="2.2"/>
<circle cx="354.3" cy="325.7" r="2.2"/>
<circle cx="345.3" cy="328.4" r="2.2"/>
<circle cx="337.2" cy="322.8" r="2.2"/>
<circle cx="335.8" cy="331.6" r="2.2"/>
<circle cx="323.9" cy="320.0" r="2.2"/>
<circle cx="342.6" cy="334.1" r="2.2"/>
<circle cx="341.2" cy="333.9" r="2.2"/>
<circle cx="341.5" cy="324.1" r="2.2"/>
<circle cx="329.6" cy="328.0" r="2.2"/>
<circle cx="355.7" cy="327.5" r="2.2"/>
<circle cx="333.7" cy="330.2" r="2.2"/>
<circle cx="324.6" cy="299.0" r="2.2"/>
<circle cx="332.0" cy="298.6" r="2.2"/>
<circle cx="346.0" cy="301.0" r="2.2"/>
<circle cx="357.0" cy="305.0" r="2.2"/>
<circle cx="362.4" cy="305.0" r="2.2"/>
<circle cx="361.0" cy="309.0" r="2.2"/>
<circle cx="366.0" cy="310.0" r="2.2"/>
<circle cx="370.6" cy="308.6" r="2.2"/>
<circle cx="298.4" cy="315.4" r="2.2"/>
<circle cx="309.0" cy="316.0" r="2.2"/>
<circle cx="315.0" cy="312.0" r="2.2"/>
<circle cx="318.0" cy="314.4" r="2.2"/>
<circle cx="341.0" cy="310.6" r="2.2"/>
<circle cx="350.0" cy="310.0" r="2.2"/>
<circle cx="354.0" cy="315.0" r="2.2"/>
<circle cx="361.0" cy="319.6" r="2.2"/>
<circle cx="285.0" cy="330.0" r="2.2"/>
<circle cx="282.4" cy="332.4" r="2.2"/>
<circle cx="292.0" cy="328.0" r="2.2"/>
<circle cx="289.4" cy="338.0" r="2.2"/>
<circle cx="370.0" cy="328.0" r="2.2"/>
<circle cx="396.4" cy="336.4" r="2.2"/>
<circle cx="362.6" cy="336.0" r="2.2"/>
<circle cx="358.0" cy="341.0" r="2.2"/>
<circle cx="367.0" cy="342.0" r="2.2"/>
<circle cx="370.0" cy="344.0" r="2.2"/>
<circle cx="372.4" cy="339.6" r="2.2"/>
<circle cx="369.4" cy="348.0" r="2.2"/>
<circle cx="379.0" cy="345.4" r="2.2"/>
<circle cx="352.4" cy="349.6" r="2.2"/>
<circle cx="355.6" cy="353.6" r="2.2"/>
<circle cx="350.4" cy="357.0" r="2.2"/>
<circle cx="353.0" cy="356.0" r="2.2"/>
<circle cx="368.0" cy="354.4" r="2.2"/>
<circle cx="376.0" cy="358.0" r="2.2"/>
<circle cx="298.4" cy="349.0" r="2.2"/>
<circle cx="309.0" cy="349.4" r="2.2"/>
<circle cx="310.0" cy="349.2" r="2.2"/>
<circle cx="309.4" cy="356.0" r="2.2"/>
<circle cx="318.6" cy="355.0" r="2.2"/>
<circle cx="318.0" cy="358.0" r="2.2"/>
<circle cx="320.0" cy="359.6" r="2.2"/>
<circle cx="321.0" cy="360.4" r="2.2"/>
<circle cx="338.4" cy="370.6" r="2.2"/>
<circle cx="315.6" cy="342.4" r="2.2"/>
<circle cx="329.4" cy="344.0" r="2.2"/>
<circle cx="333.0" cy="341.6" r="2.2"/>
<circle cx="334.0" cy="339.0" r="2.2"/>
<circle cx="351.0" cy="339.0" r="2.2"/>
<circle cx="347.0" cy="336.4" r="2.2"/>
<circle cx="423.6" cy="323.3" r="2.2"/>
<circle cx="356.0" cy="318.0" r="2.2"/>
<circle cx="352.0" cy="322.0" r="2.2"/>
<circle cx="357.0" cy="324.0" r="2.2"/>
<circle cx="344.0" cy="312.0" r="2.2"/>
<circle cx="348.0" cy="313.0" r="2.2"/>
<circle cx="352.0" cy="312.0" r="2.2"/>
<circle cx="255" cy="408.2" r="2.2"/>
</g>
<text x="261.0" y="411.3" font-size="9.2" text-anchor="start" fill="#000">Sequences</text>
<line x1="509.5" y1="228.5" x2="509.5" y2="368.5" stroke="#4a4a4a" stroke-width="0.9"/>
<line x1="509.5" y1="228.5" x2="516.5" y2="228.5" stroke="#4a4a4a" stroke-width="0.9"/>
<line x1="516.5" y1="18.5" x2="516.5" y2="230.5" stroke="#4a4a4a" stroke-width="0.9"/>
<line x1="509.5" y1="368.5" x2="529.5" y2="368.5" stroke="#4a4a4a" stroke-width="0.9"/>
<line x1="529.5" y1="360.5" x2="529.5" y2="376.5" stroke="#4a4a4a" stroke-width="0.9"/>
<line x1="529.5" y1="360.5" x2="542.5" y2="360.5" stroke="#4a4a4a" stroke-width="0.9"/>
<line x1="542.5" y1="284.5" x2="542.5" y2="374.5" stroke="#4a4a4a" stroke-width="0.9"/>
<line x1="542.5" y1="284.5" x2="548.5" y2="284.5" stroke="#4a4a4a" stroke-width="0.9"/>
<line x1="548.5" y1="260.5" x2="548.5" y2="284.5" stroke="#4a4a4a" stroke-width="0.9"/>
<line x1="542.5" y1="296.5" x2="572.5" y2="296.5" stroke="#4a4a4a" stroke-width="0.9"/>
<line x1="542.5" y1="374.5" x2="568.5" y2="374.5" stroke="#4a4a4a" stroke-width="0.9"/>
<line x1="542.5" y1="341.5" x2="547.5" y2="341.5" stroke="#4a4a4a" stroke-width="0.9"/>
<line x1="547.5" y1="332.5" x2="547.5" y2="350.5" stroke="#4a4a4a" stroke-width="0.9"/>
<line x1="547.5" y1="332.5" x2="560.5" y2="332.5" stroke="#4a4a4a" stroke-width="0.9"/>
<line x1="547.5" y1="350.5" x2="558.5" y2="350.5" stroke="#4a4a4a" stroke-width="0.9"/>
<line x1="558.5" y1="344.5" x2="558.5" y2="350.5" stroke="#4a4a4a" stroke-width="0.9"/>
<line x1="558.5" y1="344.5" x2="568.5" y2="344.5" stroke="#4a4a4a" stroke-width="0.9"/>
<line x1="568.5" y1="342.5" x2="568.5" y2="348.5" stroke="#4a4a4a" stroke-width="0.9"/>
<line x1="568.5" y1="342.5" x2="578.5" y2="342.5" stroke="#4a4a4a" stroke-width="0.9"/>
<line x1="568.5" y1="348.5" x2="578.5" y2="348.5" stroke="#4a4a4a" stroke-width="0.9"/>
<line x1="608.5" y1="312.5" x2="624.5" y2="312.5" stroke="#4a4a4a" stroke-width="0.9"/>
<line x1="548.5" y1="260.5" x2="552.5" y2="260.5" stroke="#4a4a4a" stroke-width="0.9"/>
<line x1="560.5" y1="332.5" x2="574.5" y2="332.5" stroke="#4a4a4a" stroke-width="0.9"/>
<line x1="509.5" y1="374.5" x2="509.5" y2="424.5" stroke="#4a4a4a" stroke-width="0.9"/>
<line x1="510.5" y1="400.5" x2="549.5" y2="400.5" stroke="#4a4a4a" stroke-width="0.9"/>
<line x1="510.5" y1="409.5" x2="536.5" y2="409.5" stroke="#4a4a4a" stroke-width="0.9"/>
<line x1="510.5" y1="389.5" x2="536.5" y2="389.5" stroke="#4a4a4a" stroke-width="0.9"/>
<line x1="510.5" y1="420.5" x2="526.5" y2="420.5" stroke="#4a4a4a" stroke-width="0.9"/>
<line x1="522.5" y1="42.5" x2="522.5" y2="48.5" stroke="#4a4a4a" stroke-width="0.9"/>
<line x1="522.5" y1="42.5" x2="526.5" y2="42.5" stroke="#4a4a4a" stroke-width="0.9"/>
<line x1="522.5" y1="48.5" x2="526.5" y2="48.5" stroke="#4a4a4a" stroke-width="0.9"/>
<line x1="522.5" y1="214.5" x2="532.5" y2="214.5" stroke="#4a4a4a" stroke-width="0.9"/>
<line x1="522.5" y1="190.5" x2="532.5" y2="190.5" stroke="#4a4a4a" stroke-width="0.9"/>
<circle cx="517.0" cy="52.4" r="3.6" fill="#ff8c00" stroke="#1c1000" stroke-width="0.55"/>
<circle cx="517.0" cy="37.0" r="3.6" fill="#ff8c00" stroke="#1c1000" stroke-width="0.55"/>
<circle cx="517.0" cy="33.4" r="3.6" fill="#ff8c00" stroke="#1c1000" stroke-width="0.55"/>
<circle cx="517.0" cy="32.2" r="3.6" fill="#ff8c00" stroke="#1c1000" stroke-width="0.55"/>
<circle cx="517.0" cy="31.0" r="3.6" fill="#ff8c00" stroke="#1c1000" stroke-width="0.55"/>
<circle cx="517.0" cy="30.0" r="3.6" fill="#ff8c00" stroke="#1c1000" stroke-width="0.55"/>
<circle cx="517.0" cy="26.0" r="3.6" fill="#ff8c00" stroke="#1c1000" stroke-width="0.55"/>
<circle cx="517.0" cy="20.0" r="3.6" fill="#ff8c00" stroke="#1c1000" stroke-width="0.55"/>
<circle cx="516.6" cy="227.2" r="3.6" fill="#ff8c00" stroke="#1c1000" stroke-width="0.55"/>
<circle cx="516.7" cy="224.7" r="3.6" fill="#ff8c00" stroke="#1c1000" stroke-width="0.55"/>
<circle cx="516.5" cy="221.9" r="3.6" fill="#ff8c00" stroke="#1c1000" stroke-width="0.55"/>
<circle cx="516.2" cy="219.1" r="3.6" fill="#ff8c00" stroke="#1c1000" stroke-width="0.55"/>
<circle cx="516.1" cy="216.3" r="3.6" fill="#ff8c00" stroke="#1c1000" stroke-width="0.55"/>
<circle cx="516.6" cy="214.3" r="3.6" fill="#ff8c00" stroke="#1c1000" stroke-width="0.55"/>
<circle cx="516.2" cy="212.4" r="3.6" fill="#ff8c00" stroke="#1c1000" stroke-width="0.55"/>
<circle cx="516.6" cy="211.9" r="3.6" fill="#ff8c00" stroke="#1c1000" stroke-width="0.55"/>
<circle cx="516.1" cy="211.3" r="3.6" fill="#ff8c00" stroke="#1c1000" stroke-width="0.55"/>
<circle cx="516.2" cy="210.6" r="3.6" fill="#ff8c00" stroke="#1c1000" stroke-width="0.55"/>
<circle cx="516.5" cy="210.0" r="3.6" fill="#ff8c00" stroke="#1c1000" stroke-width="0.55"/>
<circle cx="516.6" cy="209.3" r="3.6" fill="#ff8c00" stroke="#1c1000" stroke-width="0.55"/>
<circle cx="516.5" cy="208.5" r="3.6" fill="#ff8c00" stroke="#1c1000" stroke-width="0.55"/>
<circle cx="516.2" cy="207.8" r="3.6" fill="#ff8c00" stroke="#1c1000" stroke-width="0.55"/>
<circle cx="516.3" cy="207.1" r="3.6" fill="#ff8c00" stroke="#1c1000" stroke-width="0.55"/>
<circle cx="516.6" cy="206.4" r="3.6" fill="#ff8c00" stroke="#1c1000" stroke-width="0.55"/>
<circle cx="516.7" cy="205.8" r="3.6" fill="#ff8c00" stroke="#1c1000" stroke-width="0.55"/>
<circle cx="516.4" cy="205.0" r="3.6" fill="#ff8c00" stroke="#1c1000" stroke-width="0.55"/>
<circle cx="516.1" cy="204.4" r="3.6" fill="#ff8c00" stroke="#1c1000" stroke-width="0.55"/>
<circle cx="516.4" cy="203.7" r="3.6" fill="#ff8c00" stroke="#1c1000" stroke-width="0.55"/>
<circle cx="516.4" cy="203.1" r="3.6" fill="#ff8c00" stroke="#1c1000" stroke-width="0.55"/>
<circle cx="516.4" cy="202.4" r="3.6" fill="#ff8c00" stroke="#1c1000" stroke-width="0.55"/>
<circle cx="516.4" cy="201.7" r="3.6" fill="#ff8c00" stroke="#1c1000" stroke-width="0.55"/>
<circle cx="516.4" cy="201.1" r="3.6" fill="#ff8c00" stroke="#1c1000" stroke-width="0.55"/>
<circle cx="516.6" cy="200.4" r="3.6" fill="#ff8c00" stroke="#1c1000" stroke-width="0.55"/>
<circle cx="516.6" cy="199.8" r="3.6" fill="#ff8c00" stroke="#1c1000" stroke-width="0.55"/>
<circle cx="516.3" cy="199.1" r="3.6" fill="#ff8c00" stroke="#1c1000" stroke-width="0.55"/>
<circle cx="516.1" cy="198.5" r="3.6" fill="#ff8c00" stroke="#1c1000" stroke-width="0.55"/>
<circle cx="516.5" cy="197.9" r="3.6" fill="#ff8c00" stroke="#1c1000" stroke-width="0.55"/>
<circle cx="516.2" cy="197.3" r="3.6" fill="#ff8c00" stroke="#1c1000" stroke-width="0.55"/>
<circle cx="516.2" cy="196.7" r="3.6" fill="#ff8c00" stroke="#1c1000" stroke-width="0.55"/>
<circle cx="516.5" cy="196.1" r="3.6" fill="#ff8c00" stroke="#1c1000" stroke-width="0.55"/>
<circle cx="516.3" cy="195.4" r="3.6" fill="#ff8c00" stroke="#1c1000" stroke-width="0.55"/>
<circle cx="516.3" cy="193.2" r="3.6" fill="#ff8c00" stroke="#1c1000" stroke-width="0.55"/>
<circle cx="516.2" cy="190.8" r="3.6" fill="#ff8c00" stroke="#1c1000" stroke-width="0.55"/>
<circle cx="516.7" cy="188.0" r="3.6" fill="#ff8c00" stroke="#1c1000" stroke-width="0.55"/>
<circle cx="516.2" cy="186.1" r="3.6" fill="#ff8c00" stroke="#1c1000" stroke-width="0.55"/>
<circle cx="516.1" cy="185.5" r="3.6" fill="#ff8c00" stroke="#1c1000" stroke-width="0.55"/>
<circle cx="516.6" cy="185.0" r="3.6" fill="#ff8c00" stroke="#1c1000" stroke-width="0.55"/>
<circle cx="516.4" cy="184.4" r="3.6" fill="#ff8c00" stroke="#1c1000" stroke-width="0.55"/>
<circle cx="516.3" cy="183.7" r="3.6" fill="#ff8c00" stroke="#1c1000" stroke-width="0.55"/>
<circle cx="516.1" cy="183.1" r="3.6" fill="#ff8c00" stroke="#1c1000" stroke-width="0.55"/>
<circle cx="516.5" cy="182.4" r="3.6" fill="#ff8c00" stroke="#1c1000" stroke-width="0.55"/>
<circle cx="516.6" cy="181.9" r="3.6" fill="#ff8c00" stroke="#1c1000" stroke-width="0.55"/>
<circle cx="516.7" cy="181.1" r="3.6" fill="#ff8c00" stroke="#1c1000" stroke-width="0.55"/>
<circle cx="516.2" cy="180.4" r="3.6" fill="#ff8c00" stroke="#1c1000" stroke-width="0.55"/>
<circle cx="516.4" cy="179.7" r="3.6" fill="#ff8c00" stroke="#1c1000" stroke-width="0.55"/>
<circle cx="516.3" cy="179.1" r="3.6" fill="#ff8c00" stroke="#1c1000" stroke-width="0.55"/>
<circle cx="516.4" cy="178.4" r="3.6" fill="#ff8c00" stroke="#1c1000" stroke-width="0.55"/>
<circle cx="516.3" cy="177.6" r="3.6" fill="#ff8c00" stroke="#1c1000" stroke-width="0.55"/>
<circle cx="516.5" cy="177.0" r="3.6" fill="#ff8c00" stroke="#1c1000" stroke-width="0.55"/>
<circle cx="516.3" cy="176.2" r="3.6" fill="#ff8c00" stroke="#1c1000" stroke-width="0.55"/>
<circle cx="516.5" cy="175.6" r="3.6" fill="#ff8c00" stroke="#1c1000" stroke-width="0.55"/>
<circle cx="516.2" cy="175.0" r="3.6" fill="#ff8c00" stroke="#1c1000" stroke-width="0.55"/>
<circle cx="516.1" cy="174.3" r="3.6" fill="#ff8c00" stroke="#1c1000" stroke-width="0.55"/>
<circle cx="516.6" cy="173.6" r="3.6" fill="#ff8c00" stroke="#1c1000" stroke-width="0.55"/>
<circle cx="516.7" cy="172.8" r="3.6" fill="#ff8c00" stroke="#1c1000" stroke-width="0.55"/>
<circle cx="516.6" cy="172.1" r="3.6" fill="#ff8c00" stroke="#1c1000" stroke-width="0.55"/>
<circle cx="516.6" cy="170.3" r="3.6" fill="#ff8c00" stroke="#1c1000" stroke-width="0.55"/>
<circle cx="516.5" cy="168.1" r="3.6" fill="#ff8c00" stroke="#1c1000" stroke-width="0.55"/>
<circle cx="516.2" cy="166.2" r="3.6" fill="#ff8c00" stroke="#1c1000" stroke-width="0.55"/>
<circle cx="516.3" cy="165.6" r="3.6" fill="#ff8c00" stroke="#1c1000" stroke-width="0.55"/>
<circle cx="516.5" cy="165.0" r="3.6" fill="#ff8c00" stroke="#1c1000" stroke-width="0.55"/>
<circle cx="516.5" cy="164.2" r="3.6" fill="#ff8c00" stroke="#1c1000" stroke-width="0.55"/>
<circle cx="516.7" cy="163.6" r="3.6" fill="#ff8c00" stroke="#1c1000" stroke-width="0.55"/>
<circle cx="516.4" cy="162.9" r="3.6" fill="#ff8c00" stroke="#1c1000" stroke-width="0.55"/>
<circle cx="516.6" cy="162.1" r="3.6" fill="#ff8c00" stroke="#1c1000" stroke-width="0.55"/>
<circle cx="516.1" cy="161.3" r="3.6" fill="#ff8c00" stroke="#1c1000" stroke-width="0.55"/>
<circle cx="516.7" cy="160.7" r="3.6" fill="#ff8c00" stroke="#1c1000" stroke-width="0.55"/>
<circle cx="516.4" cy="160.1" r="3.6" fill="#ff8c00" stroke="#1c1000" stroke-width="0.55"/>
<circle cx="516.3" cy="159.5" r="3.6" fill="#ff8c00" stroke="#1c1000" stroke-width="0.55"/>
<circle cx="516.6" cy="158.9" r="3.6" fill="#ff8c00" stroke="#1c1000" stroke-width="0.55"/>
<circle cx="516.2" cy="158.3" r="3.6" fill="#ff8c00" stroke="#1c1000" stroke-width="0.55"/>
<circle cx="516.6" cy="157.7" r="3.6" fill="#ff8c00" stroke="#1c1000" stroke-width="0.55"/>
<circle cx="516.6" cy="157.0" r="3.6" fill="#ff8c00" stroke="#1c1000" stroke-width="0.55"/>
<circle cx="516.2" cy="156.4" r="3.6" fill="#ff8c00" stroke="#1c1000" stroke-width="0.55"/>
<circle cx="516.6" cy="155.7" r="3.6" fill="#ff8c00" stroke="#1c1000" stroke-width="0.55"/>
<circle cx="516.4" cy="155.1" r="3.6" fill="#ff8c00" stroke="#1c1000" stroke-width="0.55"/>
<circle cx="516.2" cy="154.6" r="3.6" fill="#ff8c00" stroke="#1c1000" stroke-width="0.55"/>
<circle cx="516.6" cy="154.0" r="3.6" fill="#ff8c00" stroke="#1c1000" stroke-width="0.55"/>
<circle cx="516.3" cy="153.3" r="3.6" fill="#ff8c00" stroke="#1c1000" stroke-width="0.55"/>
<circle cx="516.6" cy="152.7" r="3.6" fill="#ff8c00" stroke="#1c1000" stroke-width="0.55"/>
<circle cx="516.6" cy="152.1" r="3.6" fill="#ff8c00" stroke="#1c1000" stroke-width="0.55"/>
<circle cx="516.3" cy="151.5" r="3.6" fill="#ff8c00" stroke="#1c1000" stroke-width="0.55"/>
<circle cx="516.5" cy="151.0" r="3.6" fill="#ff8c00" stroke="#1c1000" stroke-width="0.55"/>
<circle cx="516.2" cy="150.3" r="3.6" fill="#ff8c00" stroke="#1c1000" stroke-width="0.55"/>
<circle cx="516.6" cy="149.8" r="3.6" fill="#ff8c00" stroke="#1c1000" stroke-width="0.55"/>
<circle cx="516.3" cy="149.2" r="3.6" fill="#ff8c00" stroke="#1c1000" stroke-width="0.55"/>
<circle cx="516.4" cy="148.5" r="3.6" fill="#ff8c00" stroke="#1c1000" stroke-width="0.55"/>
<circle cx="516.6" cy="146.6" r="3.6" fill="#ff8c00" stroke="#1c1000" stroke-width="0.55"/>
<circle cx="516.3" cy="144.4" r="3.6" fill="#ff8c00" stroke="#1c1000" stroke-width="0.55"/>
<circle cx="516.3" cy="141.9" r="3.6" fill="#ff8c00" stroke="#1c1000" stroke-width="0.55"/>
<circle cx="516.3" cy="139.7" r="3.6" fill="#ff8c00" stroke="#1c1000" stroke-width="0.55"/>
<circle cx="516.5" cy="137.5" r="3.6" fill="#ff8c00" stroke="#1c1000" stroke-width="0.55"/>
<circle cx="516.3" cy="135.2" r="3.6" fill="#ff8c00" stroke="#1c1000" stroke-width="0.55"/>
<circle cx="516.5" cy="132.2" r="3.6" fill="#ff8c00" stroke="#1c1000" stroke-width="0.55"/>
<circle cx="516.1" cy="131.7" r="3.6" fill="#ff8c00" stroke="#1c1000" stroke-width="0.55"/>
<circle cx="516.5" cy="131.0" r="3.6" fill="#ff8c00" stroke="#1c1000" stroke-width="0.55"/>
<circle cx="516.5" cy="130.4" r="3.6" fill="#ff8c00" stroke="#1c1000" stroke-width="0.55"/>
<circle cx="516.5" cy="129.7" r="3.6" fill="#ff8c00" stroke="#1c1000" stroke-width="0.55"/>
<circle cx="516.5" cy="129.2" r="3.6" fill="#ff8c00" stroke="#1c1000" stroke-width="0.55"/>
<circle cx="516.1" cy="128.5" r="3.6" fill="#ff8c00" stroke="#1c1000" stroke-width="0.55"/>
<circle cx="516.3" cy="127.8" r="3.6" fill="#ff8c00" stroke="#1c1000" stroke-width="0.55"/>
<circle cx="516.4" cy="127.3" r="3.6" fill="#ff8c00" stroke="#1c1000" stroke-width="0.55"/>
<circle cx="516.7" cy="126.7" r="3.6" fill="#ff8c00" stroke="#1c1000" stroke-width="0.55"/>
<circle cx="516.2" cy="126.1" r="3.6" fill="#ff8c00" stroke="#1c1000" stroke-width="0.55"/>
<circle cx="516.4" cy="125.4" r="3.6" fill="#ff8c00" stroke="#1c1000" stroke-width="0.55"/>
<circle cx="516.7" cy="124.7" r="3.6" fill="#ff8c00" stroke="#1c1000" stroke-width="0.55"/>
<circle cx="516.4" cy="124.0" r="3.6" fill="#ff8c00" stroke="#1c1000" stroke-width="0.55"/>
<circle cx="516.5" cy="123.4" r="3.6" fill="#ff8c00" stroke="#1c1000" stroke-width="0.55"/>
<circle cx="516.4" cy="122.7" r="3.6" fill="#ff8c00" stroke="#1c1000" stroke-width="0.55"/>
<circle cx="516.6" cy="122.1" r="3.6" fill="#ff8c00" stroke="#1c1000" stroke-width="0.55"/>
<circle cx="516.3" cy="121.3" r="3.6" fill="#ff8c00" stroke="#1c1000" stroke-width="0.55"/>
<circle cx="516.1" cy="120.5" r="3.6" fill="#ff8c00" stroke="#1c1000" stroke-width="0.55"/>
<circle cx="516.5" cy="120.0" r="3.6" fill="#ff8c00" stroke="#1c1000" stroke-width="0.55"/>
<circle cx="516.2" cy="119.4" r="3.6" fill="#ff8c00" stroke="#1c1000" stroke-width="0.55"/>
<circle cx="516.5" cy="118.9" r="3.6" fill="#ff8c00" stroke="#1c1000" stroke-width="0.55"/>
<circle cx="516.3" cy="118.3" r="3.6" fill="#ff8c00" stroke="#1c1000" stroke-width="0.55"/>
<circle cx="516.4" cy="117.5" r="3.6" fill="#ff8c00" stroke="#1c1000" stroke-width="0.55"/>
<circle cx="516.6" cy="116.7" r="3.6" fill="#ff8c00" stroke="#1c1000" stroke-width="0.55"/>
<circle cx="516.5" cy="116.1" r="3.6" fill="#ff8c00" stroke="#1c1000" stroke-width="0.55"/>
<circle cx="516.5" cy="115.6" r="3.6" fill="#ff8c00" stroke="#1c1000" stroke-width="0.55"/>
<circle cx="516.6" cy="115.1" r="3.6" fill="#ff8c00" stroke="#1c1000" stroke-width="0.55"/>
<circle cx="516.3" cy="114.4" r="3.6" fill="#ff8c00" stroke="#1c1000" stroke-width="0.55"/>
<circle cx="516.3" cy="112.4" r="3.6" fill="#ff8c00" stroke="#1c1000" stroke-width="0.55"/>
<circle cx="516.2" cy="109.6" r="3.6" fill="#ff8c00" stroke="#1c1000" stroke-width="0.55"/>
<circle cx="516.6" cy="106.7" r="3.6" fill="#ff8c00" stroke="#1c1000" stroke-width="0.55"/>
<circle cx="516.3" cy="104.8" r="3.6" fill="#ff8c00" stroke="#1c1000" stroke-width="0.55"/>
<circle cx="516.6" cy="102.3" r="3.6" fill="#ff8c00" stroke="#1c1000" stroke-width="0.55"/>
<circle cx="516.5" cy="101.7" r="3.6" fill="#ff8c00" stroke="#1c1000" stroke-width="0.55"/>
<circle cx="516.6" cy="101.1" r="3.6" fill="#ff8c00" stroke="#1c1000" stroke-width="0.55"/>
<circle cx="516.6" cy="100.3" r="3.6" fill="#ff8c00" stroke="#1c1000" stroke-width="0.55"/>
<circle cx="516.5" cy="99.7" r="3.6" fill="#ff8c00" stroke="#1c1000" stroke-width="0.55"/>
<circle cx="516.6" cy="96.7" r="3.6" fill="#ff8c00" stroke="#1c1000" stroke-width="0.55"/>
<circle cx="516.5" cy="93.8" r="3.6" fill="#ff8c00" stroke="#1c1000" stroke-width="0.55"/>
<circle cx="516.5" cy="90.9" r="3.6" fill="#ff8c00" stroke="#1c1000" stroke-width="0.55"/>
<circle cx="516.3" cy="88.4" r="3.6" fill="#ff8c00" stroke="#1c1000" stroke-width="0.55"/>
<circle cx="516.4" cy="86.2" r="3.6" fill="#ff8c00" stroke="#1c1000" stroke-width="0.55"/>
<circle cx="516.5" cy="85.6" r="3.6" fill="#ff8c00" stroke="#1c1000" stroke-width="0.55"/>
<circle cx="516.7" cy="84.9" r="3.6" fill="#ff8c00" stroke="#1c1000" stroke-width="0.55"/>
<circle cx="516.2" cy="84.4" r="3.6" fill="#ff8c00" stroke="#1c1000" stroke-width="0.55"/>
<circle cx="516.6" cy="83.9" r="3.6" fill="#ff8c00" stroke="#1c1000" stroke-width="0.55"/>
<circle cx="516.4" cy="83.1" r="3.6" fill="#ff8c00" stroke="#1c1000" stroke-width="0.55"/>
<circle cx="516.3" cy="82.3" r="3.6" fill="#ff8c00" stroke="#1c1000" stroke-width="0.55"/>
<circle cx="516.5" cy="79.4" r="3.6" fill="#ff8c00" stroke="#1c1000" stroke-width="0.55"/>
<circle cx="516.5" cy="76.6" r="3.6" fill="#ff8c00" stroke="#1c1000" stroke-width="0.55"/>
<circle cx="516.6" cy="74.2" r="3.6" fill="#ff8c00" stroke="#1c1000" stroke-width="0.55"/>
<circle cx="516.3" cy="73.7" r="3.6" fill="#ff8c00" stroke="#1c1000" stroke-width="0.55"/>
<circle cx="516.6" cy="73.0" r="3.6" fill="#ff8c00" stroke="#1c1000" stroke-width="0.55"/>
<circle cx="516.5" cy="72.5" r="3.6" fill="#ff8c00" stroke="#1c1000" stroke-width="0.55"/>
<circle cx="516.4" cy="71.8" r="3.6" fill="#ff8c00" stroke="#1c1000" stroke-width="0.55"/>
<circle cx="516.5" cy="71.0" r="3.6" fill="#ff8c00" stroke="#1c1000" stroke-width="0.55"/>
<circle cx="516.5" cy="70.5" r="3.6" fill="#ff8c00" stroke="#1c1000" stroke-width="0.55"/>
<circle cx="516.6" cy="69.8" r="3.6" fill="#ff8c00" stroke="#1c1000" stroke-width="0.55"/>
<circle cx="516.7" cy="69.2" r="3.6" fill="#ff8c00" stroke="#1c1000" stroke-width="0.55"/>
<circle cx="516.3" cy="68.6" r="3.6" fill="#ff8c00" stroke="#1c1000" stroke-width="0.55"/>
<circle cx="516.1" cy="67.9" r="3.6" fill="#ff8c00" stroke="#1c1000" stroke-width="0.55"/>
<circle cx="516.5" cy="67.3" r="3.6" fill="#ff8c00" stroke="#1c1000" stroke-width="0.55"/>
<circle cx="516.3" cy="66.7" r="3.6" fill="#ff8c00" stroke="#1c1000" stroke-width="0.55"/>
<circle cx="516.2" cy="66.0" r="3.6" fill="#ff8c00" stroke="#1c1000" stroke-width="0.55"/>
<circle cx="515.4" cy="230.0" r="3.6" fill="#ff8c00" stroke="#1c1000" stroke-width="0.55"/>
<circle cx="521.7" cy="221.2" r="3.6" fill="#ff8c00" stroke="#1c1000" stroke-width="0.55"/>
<circle cx="521.8" cy="217.8" r="3.6" fill="#ff8c00" stroke="#1c1000" stroke-width="0.55"/>
<circle cx="522.3" cy="213.5" r="3.6" fill="#ff8c00" stroke="#1c1000" stroke-width="0.55"/>
<circle cx="521.6" cy="209.1" r="3.6" fill="#ff8c00" stroke="#1c1000" stroke-width="0.55"/>
<circle cx="522.0" cy="204.6" r="3.6" fill="#ff8c00" stroke="#1c1000" stroke-width="0.55"/>
<circle cx="521.6" cy="200.3" r="3.6" fill="#ff8c00" stroke="#1c1000" stroke-width="0.55"/>
<circle cx="521.8" cy="194.9" r="3.6" fill="#ff8c00" stroke="#1c1000" stroke-width="0.55"/>
<circle cx="521.8" cy="190.4" r="3.6" fill="#ff8c00" stroke="#1c1000" stroke-width="0.55"/>
<circle cx="521.7" cy="185.5" r="3.6" fill="#ff8c00" stroke="#1c1000" stroke-width="0.55"/>
<circle cx="522.2" cy="181.4" r="3.6" fill="#ff8c00" stroke="#1c1000" stroke-width="0.55"/>
<circle cx="521.4" cy="176.8" r="3.6" fill="#ff8c00" stroke="#1c1000" stroke-width="0.55"/>
<circle cx="521.4" cy="175.7" r="3.6" fill="#ff8c00" stroke="#1c1000" stroke-width="0.55"/>
<circle cx="521.6" cy="174.7" r="3.6" fill="#ff8c00" stroke="#1c1000" stroke-width="0.55"/>
<circle cx="521.6" cy="173.9" r="3.6" fill="#ff8c00" stroke="#1c1000" stroke-width="0.55"/>
<circle cx="521.8" cy="172.8" r="3.6" fill="#ff8c00" stroke="#1c1000" stroke-width="0.55"/>
<circle cx="521.6" cy="171.7" r="3.6" fill="#ff8c00" stroke="#1c1000" stroke-width="0.55"/>
<circle cx="522.1" cy="170.8" r="3.6" fill="#ff8c00" stroke="#1c1000" stroke-width="0.55"/>
<circle cx="521.5" cy="170.0" r="3.6" fill="#ff8c00" stroke="#1c1000" stroke-width="0.55"/>
<circle cx="521.5" cy="169.2" r="3.6" fill="#ff8c00" stroke="#1c1000" stroke-width="0.55"/>
<circle cx="521.5" cy="168.1" r="3.6" fill="#ff8c00" stroke="#1c1000" stroke-width="0.55"/>
<circle cx="521.5" cy="167.2" r="3.6" fill="#ff8c00" stroke="#1c1000" stroke-width="0.55"/>
<circle cx="522.2" cy="166.3" r="3.6" fill="#ff8c00" stroke="#1c1000" stroke-width="0.55"/>
<circle cx="521.9" cy="165.2" r="3.6" fill="#ff8c00" stroke="#1c1000" stroke-width="0.55"/>
<circle cx="522.2" cy="164.0" r="3.6" fill="#ff8c00" stroke="#1c1000" stroke-width="0.55"/>
<circle cx="522.2" cy="163.2" r="3.6" fill="#ff8c00" stroke="#1c1000" stroke-width="0.55"/>
<circle cx="522.2" cy="162.1" r="3.6" fill="#ff8c00" stroke="#1c1000" stroke-width="0.55"/>
<circle cx="522.3" cy="161.3" r="3.6" fill="#ff8c00" stroke="#1c1000" stroke-width="0.55"/>
<circle cx="521.9" cy="155.5" r="3.6" fill="#ff8c00" stroke="#1c1000" stroke-width="0.55"/>
<circle cx="522.0" cy="151.0" r="3.6" fill="#ff8c00" stroke="#1c1000" stroke-width="0.55"/>
<circle cx="521.7" cy="145.6" r="3.6" fill="#ff8c00" stroke="#1c1000" stroke-width="0.55"/>
<circle cx="521.9" cy="142.1" r="3.6" fill="#ff8c00" stroke="#1c1000" stroke-width="0.55"/>
<circle cx="522.1" cy="138.5" r="3.6" fill="#ff8c00" stroke="#1c1000" stroke-width="0.55"/>
<circle cx="521.6" cy="134.9" r="3.6" fill="#ff8c00" stroke="#1c1000" stroke-width="0.55"/>
<circle cx="522.0" cy="130.1" r="3.6" fill="#ff8c00" stroke="#1c1000" stroke-width="0.55"/>
<circle cx="522.3" cy="125.5" r="3.6" fill="#ff8c00" stroke="#1c1000" stroke-width="0.55"/>
<circle cx="521.5" cy="120.1" r="3.6" fill="#ff8c00" stroke="#1c1000" stroke-width="0.55"/>
<circle cx="521.9" cy="115.5" r="3.6" fill="#ff8c00" stroke="#1c1000" stroke-width="0.55"/>
<circle cx="521.6" cy="111.1" r="3.6" fill="#ff8c00" stroke="#1c1000" stroke-width="0.55"/>
<circle cx="522.0" cy="106.7" r="3.6" fill="#ff8c00" stroke="#1c1000" stroke-width="0.55"/>
<circle cx="521.4" cy="104.0" r="3.6" fill="#ff8c00" stroke="#1c1000" stroke-width="0.55"/>
<circle cx="522.2" cy="101.8" r="3.6" fill="#ff8c00" stroke="#1c1000" stroke-width="0.55"/>
<circle cx="521.8" cy="99.2" r="3.6" fill="#ff8c00" stroke="#1c1000" stroke-width="0.55"/>
<circle cx="522.0" cy="96.7" r="3.6" fill="#ff8c00" stroke="#1c1000" stroke-width="0.55"/>
<circle cx="522.0" cy="93.9" r="3.6" fill="#ff8c00" stroke="#1c1000" stroke-width="0.55"/>
<circle cx="522.3" cy="89.1" r="3.6" fill="#ff8c00" stroke="#1c1000" stroke-width="0.55"/>
<circle cx="521.4" cy="84.1" r="3.6" fill="#ff8c00" stroke="#1c1000" stroke-width="0.55"/>
<circle cx="521.7" cy="79.2" r="3.6" fill="#ff8c00" stroke="#1c1000" stroke-width="0.55"/>
<circle cx="521.7" cy="74.4" r="3.6" fill="#ff8c00" stroke="#1c1000" stroke-width="0.55"/>
<circle cx="521.5" cy="71.8" r="3.6" fill="#ff8c00" stroke="#1c1000" stroke-width="0.55"/>
<circle cx="521.5" cy="69.7" r="3.6" fill="#ff8c00" stroke="#1c1000" stroke-width="0.55"/>
<circle cx="521.9" cy="67.1" r="3.6" fill="#ff8c00" stroke="#1c1000" stroke-width="0.55"/>
<circle cx="521.9" cy="65.0" r="3.6" fill="#ff8c00" stroke="#1c1000" stroke-width="0.55"/>
<circle cx="528.4" cy="227.0" r="3.6" fill="#ff8c00" stroke="#1c1000" stroke-width="0.55"/>
<circle cx="521.6" cy="222.0" r="3.6" fill="#ff8c00" stroke="#1c1000" stroke-width="0.55"/>
<circle cx="533.8" cy="214.0" r="3.6" fill="#ff8c00" stroke="#1c1000" stroke-width="0.55"/>
<circle cx="533.8" cy="191.0" r="3.6" fill="#ff8c00" stroke="#1c1000" stroke-width="0.55"/>
<circle cx="528.4" cy="187.0" r="3.6" fill="#ff8c00" stroke="#1c1000" stroke-width="0.55"/>
<circle cx="533.8" cy="146.0" r="3.6" fill="#ff8c00" stroke="#1c1000" stroke-width="0.55"/>
<circle cx="528.4" cy="145.0" r="3.6" fill="#ff8c00" stroke="#1c1000" stroke-width="0.55"/>
<circle cx="528.4" cy="139.0" r="3.6" fill="#ff8c00" stroke="#1c1000" stroke-width="0.55"/>
<circle cx="528.4" cy="134.0" r="3.6" fill="#ff8c00" stroke="#1c1000" stroke-width="0.55"/>
<circle cx="533.8" cy="114.0" r="3.6" fill="#ff8c00" stroke="#1c1000" stroke-width="0.55"/>
<circle cx="528.4" cy="111.0" r="3.6" fill="#ff8c00" stroke="#1c1000" stroke-width="0.55"/>
<circle cx="528.4" cy="103.0" r="3.6" fill="#ff8c00" stroke="#1c1000" stroke-width="0.55"/>
<circle cx="533.8" cy="99.0" r="3.6" fill="#ff8c00" stroke="#1c1000" stroke-width="0.55"/>
<circle cx="528.4" cy="95.0" r="3.6" fill="#ff8c00" stroke="#1c1000" stroke-width="0.55"/>
<circle cx="523.0" cy="82.0" r="3.6" fill="#ff8c00" stroke="#1c1000" stroke-width="0.55"/>
<circle cx="523.0" cy="77.0" r="3.6" fill="#ff8c00" stroke="#1c1000" stroke-width="0.55"/>
<circle cx="528.4" cy="77.0" r="3.6" fill="#ff8c00" stroke="#1c1000" stroke-width="0.55"/>
<circle cx="523.0" cy="70.0" r="3.6" fill="#ff8c00" stroke="#1c1000" stroke-width="0.55"/>
<circle cx="523.0" cy="65.0" r="3.6" fill="#ff8c00" stroke="#1c1000" stroke-width="0.55"/>
<circle cx="528.4" cy="64.0" r="3.6" fill="#ff8c00" stroke="#1c1000" stroke-width="0.55"/>
<circle cx="533.8" cy="63.0" r="3.6" fill="#ff8c00" stroke="#1c1000" stroke-width="0.55"/>
<circle cx="539.6" cy="59.4" r="3.6" fill="#ff8c00" stroke="#1c1000" stroke-width="0.55"/>
<circle cx="533.8" cy="59.0" r="3.6" fill="#ff8c00" stroke="#1c1000" stroke-width="0.55"/>
<circle cx="528.4" cy="58.0" r="3.6" fill="#ff8c00" stroke="#1c1000" stroke-width="0.55"/>
<circle cx="533.8" cy="54.0" r="3.6" fill="#ff8c00" stroke="#1c1000" stroke-width="0.55"/>
<circle cx="539.6" cy="53.4" r="3.6" fill="#ff8c00" stroke="#1c1000" stroke-width="0.55"/>
<circle cx="528.4" cy="49.0" r="3.6" fill="#ff8c00" stroke="#1c1000" stroke-width="0.55"/>
<circle cx="533.8" cy="48.0" r="3.6" fill="#ff8c00" stroke="#1c1000" stroke-width="0.55"/>
<circle cx="539.6" cy="47.4" r="3.6" fill="#ff8c00" stroke="#1c1000" stroke-width="0.55"/>
<circle cx="528.4" cy="43.0" r="3.6" fill="#ff8c00" stroke="#1c1000" stroke-width="0.55"/>
<circle cx="533.8" cy="42.0" r="3.6" fill="#ff8c00" stroke="#1c1000" stroke-width="0.55"/>
<circle cx="528.4" cy="38.6" r="3.6" fill="#ff8c00" stroke="#1c1000" stroke-width="0.55"/>
<circle cx="528.4" cy="37.4" r="3.6" fill="#ff8c00" stroke="#1c1000" stroke-width="0.55"/>
<circle cx="528.4" cy="36.2" r="3.6" fill="#ff8c00" stroke="#1c1000" stroke-width="0.55"/>
<circle cx="523.0" cy="36.0" r="3.6" fill="#ff8c00" stroke="#1c1000" stroke-width="0.55"/>
<circle cx="528.4" cy="35.0" r="3.6" fill="#ff8c00" stroke="#1c1000" stroke-width="0.55"/>
<circle cx="523.0" cy="30.0" r="3.6" fill="#ff8c00" stroke="#1c1000" stroke-width="0.55"/>
<circle cx="528.4" cy="29.0" r="3.6" fill="#ff8c00" stroke="#1c1000" stroke-width="0.55"/>
<circle cx="528.4" cy="26.0" r="3.6" fill="#ff8c00" stroke="#1c1000" stroke-width="0.55"/>
<circle cx="523.0" cy="25.0" r="3.6" fill="#ff8c00" stroke="#1c1000" stroke-width="0.55"/>
<circle cx="533.8" cy="22.0" r="3.6" fill="#ff8c00" stroke="#1c1000" stroke-width="0.55"/>
<circle cx="523.0" cy="20.0" r="3.6" fill="#ff8c00" stroke="#1c1000" stroke-width="0.55"/>
<circle cx="533.8" cy="19.0" r="3.6" fill="#ff8c00" stroke="#1c1000" stroke-width="0.55"/>
<circle cx="523.0" cy="16.6" r="3.6" fill="#ff8c00" stroke="#1c1000" stroke-width="0.55"/>
<circle cx="523.0" cy="15.4" r="3.6" fill="#ff8c00" stroke="#1c1000" stroke-width="0.55"/>
<circle cx="523.0" cy="14.2" r="3.6" fill="#ff8c00" stroke="#1c1000" stroke-width="0.55"/>
<circle cx="523.0" cy="13.0" r="3.6" fill="#ff8c00" stroke="#1c1000" stroke-width="0.55"/>
<circle cx="528.4" cy="13.0" r="3.6" fill="#ff8c00" stroke="#1c1000" stroke-width="0.55"/>
<circle cx="569.6" cy="284.4" r="3.6" fill="#006400" stroke="#1c1000" stroke-width="0.55"/>
<circle cx="510.0" cy="427.0" r="3.6" fill="#006400" stroke="#1c1000" stroke-width="0.55"/>
<circle cx="575.0" cy="277.0" r="3.6" fill="#006400" stroke="#1c1000" stroke-width="0.55"/>
<circle cx="613.0" cy="330.6" r="3.6" fill="#006400" stroke="#1c1000" stroke-width="0.55"/>
<circle cx="548.0" cy="255.0" r="3.6" fill="#006400" stroke="#1c1000" stroke-width="0.55"/>
<circle cx="564.0" cy="289.0" r="3.6" fill="#006400" stroke="#1c1000" stroke-width="0.55"/>
<circle cx="520.6" cy="414.0" r="3.6" fill="#006400" stroke="#1c1000" stroke-width="0.55"/>
<circle cx="559.8" cy="234.5" r="3.6" fill="#006400" stroke="#1c1000" stroke-width="0.55"/>
<circle cx="529.6" cy="376.6" r="3.6" fill="#006400" stroke="#1c1000" stroke-width="0.55"/>
<circle cx="578.0" cy="321.0" r="3.6" fill="#006400" stroke="#1c1000" stroke-width="0.55"/>
<circle cx="600.0" cy="327.0" r="3.6" fill="#006400" stroke="#1c1000" stroke-width="0.55"/>
<circle cx="587.0" cy="347.9" r="3.6" fill="#006400" stroke="#1c1000" stroke-width="0.55"/>
<circle cx="570.0" cy="259.0" r="3.6" fill="#006400" stroke="#1c1000" stroke-width="0.55"/>
<circle cx="584.9" cy="284.4" r="3.6" fill="#006400" stroke="#1c1000" stroke-width="0.55"/>
<circle cx="526.0" cy="391.0" r="3.6" fill="#006400" stroke="#1c1000" stroke-width="0.55"/>
<circle cx="520.7" cy="390.9" r="3.6" fill="#006400" stroke="#1c1000" stroke-width="0.55"/>
<circle cx="564.0" cy="364.0" r="3.6" fill="#006400" stroke="#1c1000" stroke-width="0.55"/>
<circle cx="600.5" cy="314.7" r="3.6" fill="#006400" stroke="#1c1000" stroke-width="0.55"/>
<circle cx="526.7" cy="384.3" r="3.6" fill="#006400" stroke="#1c1000" stroke-width="0.55"/>
<circle cx="564.0" cy="262.0" r="3.6" fill="#006400" stroke="#1c1000" stroke-width="0.55"/>
<circle cx="559.5" cy="257.5" r="3.6" fill="#006400" stroke="#1c1000" stroke-width="0.55"/>
<circle cx="515.0" cy="401.0" r="3.6" fill="#006400" stroke="#1c1000" stroke-width="0.55"/>
<circle cx="564.9" cy="244.5" r="3.6" fill="#006400" stroke="#1c1000" stroke-width="0.55"/>
<circle cx="618.4" cy="330.0" r="3.6" fill="#006400" stroke="#1c1000" stroke-width="0.55"/>
<circle cx="591.6" cy="302.0" r="3.6" fill="#006400" stroke="#1c1000" stroke-width="0.55"/>
<circle cx="590.0" cy="316.0" r="3.6" fill="#006400" stroke="#1c1000" stroke-width="0.55"/>
<circle cx="558.5" cy="373.1" r="3.6" fill="#006400" stroke="#1c1000" stroke-width="0.55"/>
<circle cx="522.0" cy="401.0" r="3.6" fill="#006400" stroke="#1c1000" stroke-width="0.55"/>
<circle cx="510.0" cy="378.0" r="3.6" fill="#006400" stroke="#1c1000" stroke-width="0.55"/>
<circle cx="575.0" cy="326.0" r="3.6" fill="#006400" stroke="#1c1000" stroke-width="0.55"/>
<circle cx="564.0" cy="359.0" r="3.6" fill="#006400" stroke="#1c1000" stroke-width="0.55"/>
<circle cx="607.0" cy="329.0" r="3.6" fill="#006400" stroke="#1c1000" stroke-width="0.55"/>
<circle cx="510.0" cy="409.0" r="3.6" fill="#006400" stroke="#1c1000" stroke-width="0.55"/>
<circle cx="509.8" cy="403.7" r="3.6" fill="#006400" stroke="#1c1000" stroke-width="0.55"/>
<circle cx="591.5" cy="300.9" r="3.6" fill="#006400" stroke="#1c1000" stroke-width="0.55"/>
<circle cx="515.3" cy="385.8" r="3.6" fill="#006400" stroke="#1c1000" stroke-width="0.55"/>
<circle cx="575.0" cy="281.0" r="3.6" fill="#006400" stroke="#1c1000" stroke-width="0.55"/>
<circle cx="526.0" cy="395.0" r="3.6" fill="#006400" stroke="#1c1000" stroke-width="0.55"/>
<circle cx="558.6" cy="250.0" r="3.6" fill="#006400" stroke="#1c1000" stroke-width="0.55"/>
<circle cx="531.6" cy="394.6" r="3.6" fill="#006400" stroke="#1c1000" stroke-width="0.55"/>
<circle cx="586.0" cy="284.4" r="3.6" fill="#006400" stroke="#1c1000" stroke-width="0.55"/>
<circle cx="510.5" cy="401.3" r="3.6" fill="#006400" stroke="#1c1000" stroke-width="0.55"/>
<circle cx="602.0" cy="346.0" r="3.6" fill="#006400" stroke="#1c1000" stroke-width="0.55"/>
<circle cx="586.0" cy="302.0" r="3.6" fill="#006400" stroke="#1c1000" stroke-width="0.55"/>
<circle cx="558.6" cy="359.0" r="3.6" fill="#006400" stroke="#1c1000" stroke-width="0.55"/>
<circle cx="574.9" cy="296.0" r="3.6" fill="#006400" stroke="#1c1000" stroke-width="0.55"/>
<circle cx="591.6" cy="309.0" r="3.6" fill="#006400" stroke="#1c1000" stroke-width="0.55"/>
<circle cx="569.6" cy="292.0" r="3.6" fill="#006400" stroke="#1c1000" stroke-width="0.55"/>
<circle cx="560.1" cy="357.7" r="3.6" fill="#006400" stroke="#1c1000" stroke-width="0.55"/>
<circle cx="547.6" cy="292.0" r="3.6" fill="#006400" stroke="#1c1000" stroke-width="0.55"/>
<circle cx="601.8" cy="299.7" r="3.6" fill="#006400" stroke="#1c1000" stroke-width="0.55"/>
<circle cx="559.7" cy="281.3" r="3.6" fill="#006400" stroke="#1c1000" stroke-width="0.55"/>
<circle cx="584.8" cy="307.6" r="3.6" fill="#006400" stroke="#1c1000" stroke-width="0.55"/>
<circle cx="553.0" cy="277.0" r="3.6" fill="#006400" stroke="#1c1000" stroke-width="0.55"/>
<circle cx="585.7" cy="337.1" r="3.6" fill="#006400" stroke="#1c1000" stroke-width="0.55"/>
<circle cx="515.0" cy="419.0" r="3.6" fill="#006400" stroke="#1c1000" stroke-width="0.55"/>
<circle cx="558.8" cy="262.3" r="3.6" fill="#006400" stroke="#1c1000" stroke-width="0.55"/>
<circle cx="581.0" cy="358.0" r="3.6" fill="#006400" stroke="#1c1000" stroke-width="0.55"/>
<circle cx="558.6" cy="281.0" r="3.6" fill="#006400" stroke="#1c1000" stroke-width="0.55"/>
<circle cx="591.4" cy="236.6" r="3.6" fill="#006400" stroke="#1c1000" stroke-width="0.55"/>
<circle cx="580.3" cy="301.7" r="3.6" fill="#006400" stroke="#1c1000" stroke-width="0.55"/>
<circle cx="582.7" cy="316.6" r="3.6" fill="#006400" stroke="#1c1000" stroke-width="0.55"/>
<circle cx="510.0" cy="396.0" r="3.6" fill="#006400" stroke="#1c1000" stroke-width="0.55"/>
<circle cx="564.0" cy="230.0" r="3.6" fill="#006400" stroke="#1c1000" stroke-width="0.55"/>
<circle cx="586.0" cy="333.0" r="3.6" fill="#006400" stroke="#1c1000" stroke-width="0.55"/>
<circle cx="526.4" cy="389.5" r="3.6" fill="#006400" stroke="#1c1000" stroke-width="0.55"/>
<circle cx="520.6" cy="407.0" r="3.6" fill="#006400" stroke="#1c1000" stroke-width="0.55"/>
<circle cx="557.9" cy="248.7" r="3.6" fill="#006400" stroke="#1c1000" stroke-width="0.55"/>
<circle cx="520.6" cy="402.0" r="3.6" fill="#006400" stroke="#1c1000" stroke-width="0.55"/>
<circle cx="553.0" cy="255.0" r="3.6" fill="#006400" stroke="#1c1000" stroke-width="0.55"/>
<circle cx="559.6" cy="369.8" r="3.6" fill="#006400" stroke="#1c1000" stroke-width="0.55"/>
<circle cx="558.6" cy="262.0" r="3.6" fill="#006400" stroke="#1c1000" stroke-width="0.55"/>
<circle cx="558.6" cy="255.0" r="3.6" fill="#006400" stroke="#1c1000" stroke-width="0.55"/>
<circle cx="596.6" cy="295.6" r="3.6" fill="#006400" stroke="#1c1000" stroke-width="0.55"/>
<circle cx="569.6" cy="334.4" r="3.6" fill="#006400" stroke="#1c1000" stroke-width="0.55"/>
<circle cx="526.0" cy="421.0" r="3.6" fill="#006400" stroke="#1c1000" stroke-width="0.55"/>
<circle cx="569.6" cy="273.0" r="3.6" fill="#006400" stroke="#1c1000" stroke-width="0.55"/>
<circle cx="596.0" cy="316.0" r="3.6" fill="#006400" stroke="#1c1000" stroke-width="0.55"/>
<circle cx="510.0" cy="391.0" r="3.6" fill="#006400" stroke="#1c1000" stroke-width="0.55"/>
<circle cx="525.8" cy="420.5" r="3.6" fill="#006400" stroke="#1c1000" stroke-width="0.55"/>
<circle cx="591.3" cy="327.1" r="3.6" fill="#006400" stroke="#1c1000" stroke-width="0.55"/>
<circle cx="575.0" cy="284.4" r="3.6" fill="#006400" stroke="#1c1000" stroke-width="0.55"/>
<circle cx="591.0" cy="364.4" r="3.6" fill="#006400" stroke="#1c1000" stroke-width="0.55"/>
<circle cx="564.0" cy="333.0" r="3.6" fill="#006400" stroke="#1c1000" stroke-width="0.55"/>
<circle cx="619.2" cy="330.7" r="3.6" fill="#006400" stroke="#1c1000" stroke-width="0.55"/>
<circle cx="608.0" cy="315.0" r="3.6" fill="#006400" stroke="#1c1000" stroke-width="0.55"/>
<circle cx="553.5" cy="234.4" r="3.6" fill="#006400" stroke="#1c1000" stroke-width="0.55"/>
<circle cx="510.0" cy="401.0" r="3.6" fill="#006400" stroke="#1c1000" stroke-width="0.55"/>
<circle cx="558.6" cy="245.0" r="3.6" fill="#006400" stroke="#1c1000" stroke-width="0.55"/>
<circle cx="546.6" cy="293.3" r="3.6" fill="#006400" stroke="#1c1000" stroke-width="0.55"/>
<circle cx="584.0" cy="321.0" r="3.6" fill="#006400" stroke="#1c1000" stroke-width="0.55"/>
<circle cx="596.6" cy="366.0" r="3.6" fill="#006400" stroke="#1c1000" stroke-width="0.55"/>
<circle cx="548.0" cy="259.0" r="3.6" fill="#006400" stroke="#1c1000" stroke-width="0.55"/>
<circle cx="602.9" cy="350.8" r="3.6" fill="#006400" stroke="#1c1000" stroke-width="0.55"/>
<circle cx="565.5" cy="370.0" r="3.6" fill="#006400" stroke="#1c1000" stroke-width="0.55"/>
<circle cx="558.6" cy="240.0" r="3.6" fill="#006400" stroke="#1c1000" stroke-width="0.55"/>
<circle cx="599.6" cy="326.5" r="3.6" fill="#006400" stroke="#1c1000" stroke-width="0.55"/>
<circle cx="515.0" cy="407.0" r="3.6" fill="#006400" stroke="#1c1000" stroke-width="0.55"/>
<circle cx="564.0" cy="284.4" r="3.6" fill="#006400" stroke="#1c1000" stroke-width="0.55"/>
<circle cx="553.0" cy="250.0" r="3.6" fill="#006400" stroke="#1c1000" stroke-width="0.55"/>
<circle cx="580.0" cy="326.3" r="3.6" fill="#006400" stroke="#1c1000" stroke-width="0.55"/>
<circle cx="586.0" cy="268.0" r="3.6" fill="#006400" stroke="#1c1000" stroke-width="0.55"/>
<circle cx="575.6" cy="369.0" r="3.6" fill="#006400" stroke="#1c1000" stroke-width="0.55"/>
<circle cx="603.0" cy="350.0" r="3.6" fill="#006400" stroke="#1c1000" stroke-width="0.55"/>
<circle cx="597.0" cy="309.0" r="3.6" fill="#006400" stroke="#1c1000" stroke-width="0.55"/>
<circle cx="510.0" cy="419.0" r="3.6" fill="#006400" stroke="#1c1000" stroke-width="0.55"/>
<circle cx="537.0" cy="389.4" r="3.6" fill="#006400" stroke="#1c1000" stroke-width="0.55"/>
<circle cx="570.1" cy="234.3" r="3.6" fill="#006400" stroke="#1c1000" stroke-width="0.55"/>
<circle cx="564.0" cy="259.0" r="3.6" fill="#006400" stroke="#1c1000" stroke-width="0.55"/>
<circle cx="580.7" cy="278.4" r="3.6" fill="#006400" stroke="#1c1000" stroke-width="0.55"/>
<circle cx="575.0" cy="234.0" r="3.6" fill="#006400" stroke="#1c1000" stroke-width="0.55"/>
<circle cx="586.0" cy="273.0" r="3.6" fill="#006400" stroke="#1c1000" stroke-width="0.55"/>
<circle cx="569.6" cy="281.0" r="3.6" fill="#006400" stroke="#1c1000" stroke-width="0.55"/>
<circle cx="535.0" cy="397.0" r="3.6" fill="#006400" stroke="#1c1000" stroke-width="0.55"/>
<circle cx="564.0" cy="281.0" r="3.6" fill="#006400" stroke="#1c1000" stroke-width="0.55"/>
<circle cx="584.0" cy="316.0" r="3.6" fill="#006400" stroke="#1c1000" stroke-width="0.55"/>
<circle cx="564.0" cy="255.0" r="3.6" fill="#006400" stroke="#1c1000" stroke-width="0.55"/>
<circle cx="569.6" cy="277.0" r="3.6" fill="#006400" stroke="#1c1000" stroke-width="0.55"/>
<circle cx="558.1" cy="244.7" r="3.6" fill="#006400" stroke="#1c1000" stroke-width="0.55"/>
<circle cx="510.0" cy="405.0" r="3.6" fill="#006400" stroke="#1c1000" stroke-width="0.55"/>
<circle cx="569.5" cy="289.8" r="3.6" fill="#006400" stroke="#1c1000" stroke-width="0.55"/>
<circle cx="558.6" cy="289.0" r="3.6" fill="#006400" stroke="#1c1000" stroke-width="0.55"/>
<circle cx="530.3" cy="400.4" r="3.6" fill="#006400" stroke="#1c1000" stroke-width="0.55"/>
<circle cx="548.2" cy="258.0" r="3.6" fill="#006400" stroke="#1c1000" stroke-width="0.55"/>
<circle cx="575.0" cy="360.0" r="3.6" fill="#006400" stroke="#1c1000" stroke-width="0.55"/>
<circle cx="592.0" cy="326.0" r="3.6" fill="#006400" stroke="#1c1000" stroke-width="0.55"/>
<circle cx="564.0" cy="354.0" r="3.6" fill="#006400" stroke="#1c1000" stroke-width="0.55"/>
<circle cx="569.6" cy="374.0" r="3.6" fill="#006400" stroke="#1c1000" stroke-width="0.55"/>
<circle cx="597.9" cy="308.9" r="3.6" fill="#006400" stroke="#1c1000" stroke-width="0.55"/>
<circle cx="520.8" cy="396.8" r="3.6" fill="#006400" stroke="#1c1000" stroke-width="0.55"/>
<circle cx="548.0" cy="252.0" r="3.6" fill="#006400" stroke="#1c1000" stroke-width="0.55"/>
<circle cx="592.0" cy="349.0" r="3.6" fill="#006400" stroke="#1c1000" stroke-width="0.55"/>
<circle cx="576.2" cy="267.9" r="3.6" fill="#006400" stroke="#1c1000" stroke-width="0.55"/>
<circle cx="591.0" cy="297.0" r="3.6" fill="#006400" stroke="#1c1000" stroke-width="0.55"/>
<circle cx="510.0" cy="414.0" r="3.6" fill="#006400" stroke="#1c1000" stroke-width="0.55"/>
<circle cx="591.0" cy="262.4" r="3.6" fill="#006400" stroke="#1c1000" stroke-width="0.55"/>
<circle cx="515.0" cy="391.0" r="3.6" fill="#006400" stroke="#1c1000" stroke-width="0.55"/>
<circle cx="575.6" cy="259.0" r="3.6" fill="#006400" stroke="#1c1000" stroke-width="0.55"/>
<circle cx="624.0" cy="313.0" r="3.6" fill="#006400" stroke="#1c1000" stroke-width="0.55"/>
<circle cx="580.7" cy="271.5" r="3.6" fill="#006400" stroke="#1c1000" stroke-width="0.55"/>
<circle cx="596.6" cy="297.0" r="3.6" fill="#006400" stroke="#1c1000" stroke-width="0.55"/>
<circle cx="512.4" cy="427.0" r="3.6" fill="#006400" stroke="#1c1000" stroke-width="0.55"/>
<circle cx="569.6" cy="289.0" r="3.6" fill="#006400" stroke="#1c1000" stroke-width="0.55"/>
<circle cx="565.4" cy="232.9" r="3.6" fill="#006400" stroke="#1c1000" stroke-width="0.55"/>
<circle cx="564.9" cy="250.7" r="3.6" fill="#006400" stroke="#1c1000" stroke-width="0.55"/>
<circle cx="570.5" cy="273.5" r="3.6" fill="#006400" stroke="#1c1000" stroke-width="0.55"/>
<circle cx="549.6" cy="400.4" r="3.6" fill="#006400" stroke="#1c1000" stroke-width="0.55"/>
<circle cx="520.6" cy="380.0" r="3.6" fill="#006400" stroke="#1c1000" stroke-width="0.55"/>
<circle cx="608.0" cy="310.0" r="3.6" fill="#006400" stroke="#1c1000" stroke-width="0.55"/>
<circle cx="513.9" cy="408.4" r="3.6" fill="#006400" stroke="#1c1000" stroke-width="0.55"/>
<circle cx="580.6" cy="273.0" r="3.6" fill="#006400" stroke="#1c1000" stroke-width="0.55"/>
<circle cx="552.0" cy="370.0" r="3.6" fill="#006400" stroke="#1c1000" stroke-width="0.55"/>
<circle cx="580.6" cy="302.0" r="3.6" fill="#006400" stroke="#1c1000" stroke-width="0.55"/>
<circle cx="563.8" cy="289.5" r="3.6" fill="#006400" stroke="#1c1000" stroke-width="0.55"/>
<circle cx="575.0" cy="294.0" r="3.6" fill="#006400" stroke="#1c1000" stroke-width="0.55"/>
<circle cx="509.7" cy="420.4" r="3.6" fill="#006400" stroke="#1c1000" stroke-width="0.55"/>
<circle cx="587.0" cy="354.0" r="3.6" fill="#006400" stroke="#1c1000" stroke-width="0.55"/>
<circle cx="515.9" cy="423.7" r="3.6" fill="#006400" stroke="#1c1000" stroke-width="0.55"/>
<circle cx="514.5" cy="396.0" r="3.6" fill="#006400" stroke="#1c1000" stroke-width="0.55"/>
<circle cx="586.0" cy="338.0" r="3.6" fill="#006400" stroke="#1c1000" stroke-width="0.55"/>
<circle cx="558.6" cy="259.0" r="3.6" fill="#006400" stroke="#1c1000" stroke-width="0.55"/>
<circle cx="510.0" cy="386.0" r="3.6" fill="#006400" stroke="#1c1000" stroke-width="0.55"/>
<circle cx="580.6" cy="268.0" r="3.6" fill="#006400" stroke="#1c1000" stroke-width="0.55"/>
<circle cx="564.0" cy="250.0" r="3.6" fill="#006400" stroke="#1c1000" stroke-width="0.55"/>
<circle cx="580.6" cy="277.0" r="3.6" fill="#006400" stroke="#1c1000" stroke-width="0.55"/>
<circle cx="580.6" cy="309.0" r="3.6" fill="#006400" stroke="#1c1000" stroke-width="0.55"/>
<circle cx="581.7" cy="240.8" r="3.6" fill="#006400" stroke="#1c1000" stroke-width="0.55"/>
<circle cx="552.6" cy="357.6" r="3.6" fill="#006400" stroke="#1c1000" stroke-width="0.55"/>
<circle cx="558.6" cy="371.0" r="3.6" fill="#006400" stroke="#1c1000" stroke-width="0.55"/>
<circle cx="580.6" cy="326.0" r="3.6" fill="#006400" stroke="#1c1000" stroke-width="0.55"/>
<circle cx="581.0" cy="344.0" r="3.6" fill="#006400" stroke="#1c1000" stroke-width="0.55"/>
<circle cx="553.0" cy="371.0" r="3.6" fill="#006400" stroke="#1c1000" stroke-width="0.55"/>
<circle cx="579.5" cy="296.7" r="3.6" fill="#006400" stroke="#1c1000" stroke-width="0.55"/>
<circle cx="531.6" cy="401.0" r="3.6" fill="#006400" stroke="#1c1000" stroke-width="0.55"/>
<circle cx="563.1" cy="365.5" r="3.6" fill="#006400" stroke="#1c1000" stroke-width="0.55"/>
<circle cx="591.5" cy="320.9" r="3.6" fill="#006400" stroke="#1c1000" stroke-width="0.55"/>
<circle cx="597.0" cy="353.0" r="3.6" fill="#006400" stroke="#1c1000" stroke-width="0.55"/>
<circle cx="514.5" cy="402.6" r="3.6" fill="#006400" stroke="#1c1000" stroke-width="0.55"/>
<circle cx="526.0" cy="385.0" r="3.6" fill="#006400" stroke="#1c1000" stroke-width="0.55"/>
<circle cx="586.0" cy="357.0" r="3.6" fill="#006400" stroke="#1c1000" stroke-width="0.55"/>
<circle cx="559.4" cy="239.5" r="3.6" fill="#006400" stroke="#1c1000" stroke-width="0.55"/>
<circle cx="586.5" cy="272.8" r="3.6" fill="#006400" stroke="#1c1000" stroke-width="0.55"/>
<circle cx="564.0" cy="277.0" r="3.6" fill="#006400" stroke="#1c1000" stroke-width="0.55"/>
<circle cx="564.0" cy="234.0" r="3.6" fill="#006400" stroke="#1c1000" stroke-width="0.55"/>
<circle cx="597.0" cy="300.0" r="3.6" fill="#006400" stroke="#1c1000" stroke-width="0.55"/>
<circle cx="535.6" cy="388.3" r="3.6" fill="#006400" stroke="#1c1000" stroke-width="0.55"/>
<circle cx="607.2" cy="309.3" r="3.6" fill="#006400" stroke="#1c1000" stroke-width="0.55"/>
<circle cx="570.5" cy="277.4" r="3.6" fill="#006400" stroke="#1c1000" stroke-width="0.55"/>
<circle cx="570.0" cy="367.0" r="3.6" fill="#006400" stroke="#1c1000" stroke-width="0.55"/>
<circle cx="591.0" cy="338.0" r="3.6" fill="#006400" stroke="#1c1000" stroke-width="0.55"/>
<circle cx="575.0" cy="268.0" r="3.6" fill="#006400" stroke="#1c1000" stroke-width="0.55"/>
<circle cx="586.2" cy="362.7" r="3.6" fill="#006400" stroke="#1c1000" stroke-width="0.55"/>
<circle cx="520.6" cy="391.0" r="3.6" fill="#006400" stroke="#1c1000" stroke-width="0.55"/>
<circle cx="580.3" cy="342.9" r="3.6" fill="#006400" stroke="#1c1000" stroke-width="0.55"/>
<circle cx="559.6" cy="285.8" r="3.6" fill="#006400" stroke="#1c1000" stroke-width="0.55"/>
<circle cx="515.0" cy="424.0" r="3.6" fill="#006400" stroke="#1c1000" stroke-width="0.55"/>
<circle cx="581.0" cy="240.0" r="3.6" fill="#006400" stroke="#1c1000" stroke-width="0.55"/>
<circle cx="581.0" cy="349.0" r="3.6" fill="#006400" stroke="#1c1000" stroke-width="0.55"/>
<circle cx="586.0" cy="233.0" r="3.6" fill="#006400" stroke="#1c1000" stroke-width="0.55"/>
<circle cx="564.0" cy="240.0" r="3.6" fill="#006400" stroke="#1c1000" stroke-width="0.55"/>
<circle cx="589.5" cy="295.8" r="3.6" fill="#006400" stroke="#1c1000" stroke-width="0.55"/>
<circle cx="575.0" cy="297.0" r="3.6" fill="#006400" stroke="#1c1000" stroke-width="0.55"/>
<circle cx="570.0" cy="239.2" r="3.6" fill="#006400" stroke="#1c1000" stroke-width="0.55"/>
<circle cx="587.0" cy="344.0" r="3.6" fill="#006400" stroke="#1c1000" stroke-width="0.55"/>
<circle cx="586.0" cy="363.0" r="3.6" fill="#006400" stroke="#1c1000" stroke-width="0.55"/>
<circle cx="537.0" cy="409.4" r="3.6" fill="#006400" stroke="#1c1000" stroke-width="0.55"/>
<circle cx="564.0" cy="292.0" r="3.6" fill="#006400" stroke="#1c1000" stroke-width="0.55"/>
<circle cx="580.6" cy="297.0" r="3.6" fill="#006400" stroke="#1c1000" stroke-width="0.55"/>
<circle cx="602.4" cy="311.0" r="3.6" fill="#006400" stroke="#1c1000" stroke-width="0.55"/>
<circle cx="581.0" cy="354.0" r="3.6" fill="#006400" stroke="#1c1000" stroke-width="0.55"/>
<circle cx="570.0" cy="255.0" r="3.6" fill="#006400" stroke="#1c1000" stroke-width="0.55"/>
<circle cx="573.5" cy="283.0" r="3.6" fill="#006400" stroke="#1c1000" stroke-width="0.55"/>
<circle cx="510.0" cy="382.0" r="3.6" fill="#006400" stroke="#1c1000" stroke-width="0.55"/>
<circle cx="515.0" cy="413.0" r="3.6" fill="#006400" stroke="#1c1000" stroke-width="0.55"/>
<circle cx="553.0" cy="245.0" r="3.6" fill="#006400" stroke="#1c1000" stroke-width="0.55"/>
<circle cx="568.0" cy="291.1" r="3.6" fill="#006400" stroke="#1c1000" stroke-width="0.55"/>
<circle cx="602.0" cy="316.0" r="3.6" fill="#006400" stroke="#1c1000" stroke-width="0.55"/>
<circle cx="587.0" cy="349.0" r="3.6" fill="#006400" stroke="#1c1000" stroke-width="0.55"/>
<circle cx="602.0" cy="300.0" r="3.6" fill="#006400" stroke="#1c1000" stroke-width="0.55"/>
<circle cx="573.7" cy="360.5" r="3.6" fill="#006400" stroke="#1c1000" stroke-width="0.55"/>
<circle cx="553.0" cy="292.0" r="3.6" fill="#006400" stroke="#1c1000" stroke-width="0.55"/>
<circle cx="553.0" cy="281.0" r="3.6" fill="#006400" stroke="#1c1000" stroke-width="0.55"/>
<circle cx="553.0" cy="364.0" r="3.6" fill="#006400" stroke="#1c1000" stroke-width="0.55"/>
<circle cx="592.0" cy="237.6" r="3.6" fill="#006400" stroke="#1c1000" stroke-width="0.55"/>
<circle cx="515.0" cy="386.0" r="3.6" fill="#006400" stroke="#1c1000" stroke-width="0.55"/>
<circle cx="604.0" cy="320.0" r="3.6" fill="#006400" stroke="#1c1000" stroke-width="0.55"/>
<circle cx="574.6" cy="276.1" r="3.6" fill="#006400" stroke="#1c1000" stroke-width="0.55"/>
<circle cx="590.0" cy="321.0" r="3.6" fill="#006400" stroke="#1c1000" stroke-width="0.55"/>
<circle cx="553.0" cy="359.0" r="3.6" fill="#006400" stroke="#1c1000" stroke-width="0.55"/>
<circle cx="554.2" cy="281.6" r="3.6" fill="#006400" stroke="#1c1000" stroke-width="0.55"/>
<circle cx="575.1" cy="272.9" r="3.6" fill="#006400" stroke="#1c1000" stroke-width="0.55"/>
<circle cx="558.6" cy="284.4" r="3.6" fill="#006400" stroke="#1c1000" stroke-width="0.55"/>
<circle cx="558.4" cy="230.0" r="3.6" fill="#006400" stroke="#1c1000" stroke-width="0.55"/>
<circle cx="570.0" cy="240.0" r="3.6" fill="#006400" stroke="#1c1000" stroke-width="0.55"/>
<circle cx="558.6" cy="277.0" r="3.6" fill="#006400" stroke="#1c1000" stroke-width="0.55"/>
<circle cx="569.4" cy="234.0" r="3.6" fill="#006400" stroke="#1c1000" stroke-width="0.55"/>
<circle cx="580.6" cy="374.0" r="3.6" fill="#006400" stroke="#1c1000" stroke-width="0.55"/>
<circle cx="575.0" cy="273.0" r="3.6" fill="#006400" stroke="#1c1000" stroke-width="0.55"/>
<circle cx="558.6" cy="374.0" r="3.6" fill="#006400" stroke="#1c1000" stroke-width="0.55"/>
<circle cx="520.6" cy="377.0" r="3.6" fill="#006400" stroke="#1c1000" stroke-width="0.55"/>
<circle cx="586.0" cy="264.4" r="3.6" fill="#006400" stroke="#1c1000" stroke-width="0.55"/>
<circle cx="558.6" cy="234.0" r="3.6" fill="#006400" stroke="#1c1000" stroke-width="0.55"/>
<circle cx="553.0" cy="234.0" r="3.6" fill="#006400" stroke="#1c1000" stroke-width="0.55"/>
<circle cx="564.0" cy="371.0" r="3.6" fill="#006400" stroke="#1c1000" stroke-width="0.55"/>
<circle cx="511.1" cy="391.3" r="3.6" fill="#006400" stroke="#1c1000" stroke-width="0.55"/>
<circle cx="608.9" cy="355.1" r="3.6" fill="#006400" stroke="#1c1000" stroke-width="0.55"/>
<circle cx="558.6" cy="292.0" r="3.6" fill="#006400" stroke="#1c1000" stroke-width="0.55"/>
<circle cx="569.7" cy="254.0" r="3.6" fill="#006400" stroke="#1c1000" stroke-width="0.55"/>
<circle cx="586.0" cy="309.0" r="3.6" fill="#006400" stroke="#1c1000" stroke-width="0.55"/>
<circle cx="558.2" cy="292.1" r="3.6" fill="#006400" stroke="#1c1000" stroke-width="0.55"/>
<circle cx="570.4" cy="284.4" r="3.6" fill="#006400" stroke="#1c1000" stroke-width="0.55"/>
<circle cx="596.0" cy="321.0" r="3.6" fill="#006400" stroke="#1c1000" stroke-width="0.55"/>
<circle cx="606.5" cy="313.6" r="3.6" fill="#006400" stroke="#1c1000" stroke-width="0.55"/>
<circle cx="586.0" cy="326.0" r="3.6" fill="#006400" stroke="#1c1000" stroke-width="0.55"/>
<circle cx="607.6" cy="354.4" r="3.6" fill="#006400" stroke="#1c1000" stroke-width="0.55"/>
<circle cx="564.0" cy="245.0" r="3.6" fill="#006400" stroke="#1c1000" stroke-width="0.55"/>
<circle cx="515.0" cy="396.0" r="3.6" fill="#006400" stroke="#1c1000" stroke-width="0.55"/>
<circle cx="520.6" cy="396.0" r="3.6" fill="#006400" stroke="#1c1000" stroke-width="0.55"/>
<circle cx="563.6" cy="241.2" r="3.6" fill="#006400" stroke="#1c1000" stroke-width="0.55"/>
<circle cx="558.6" cy="354.0" r="3.6" fill="#006400" stroke="#1c1000" stroke-width="0.55"/>
<circle cx="579.6" cy="356.9" r="3.6" fill="#006400" stroke="#1c1000" stroke-width="0.55"/>
<circle cx="563.2" cy="355.1" r="3.6" fill="#006400" stroke="#1c1000" stroke-width="0.55"/>
<circle cx="510.0" cy="424.0" r="3.6" fill="#006400" stroke="#1c1000" stroke-width="0.55"/>
<circle cx="587.5" cy="301.1" r="3.6" fill="#006400" stroke="#1c1000" stroke-width="0.55"/>
<circle cx="578.0" cy="316.0" r="3.6" fill="#006400" stroke="#1c1000" stroke-width="0.55"/>
<circle cx="547.0" cy="251.7" r="3.6" fill="#006400" stroke="#1c1000" stroke-width="0.55"/>
<text x="598" y="423.6" font-size="8.8" fill="#000">0.001</text>
<line x1="605" x2="615" y1="424.8" y2="424.8" stroke="#000" stroke-width="0.6"/>
<circle cx="642.3" cy="213.3" r="3.6" fill="#ff8c00" stroke="#555" stroke-width="0.3"/>
<circle cx="642.3" cy="227.2" r="3.6" fill="#006400" stroke="#333" stroke-width="0.3"/>
<text x="651.8" y="216.2" font-size="9.5" fill="#000">France</text>
<text x="651.8" y="230.1" font-size="9.5" fill="#000">Europe</text>
<text x="481" y="8.5" font-size="10" font-weight="bold" fill="#000">C</text>
</svg>
</body></html>
